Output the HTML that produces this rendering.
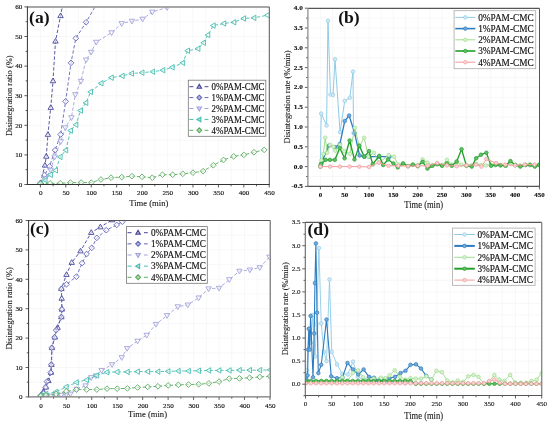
<!DOCTYPE html>
<html><head><meta charset="utf-8"><title>Disintegration</title>
<style>
html,body{margin:0;padding:0;background:#fff;}
body{width:550px;height:425px;overflow:hidden;}
svg{display:block;}
svg text{font-family:'Liberation Serif','Times New Roman',serif;}
</style></head><body>
<svg width="550" height="425" viewBox="0 0 550 425">
<rect width="550" height="425" fill="#fff"/>
<defs><clipPath id="ca"><rect x="27.9" y="7.4" width="240.9" height="176.6"/></clipPath><clipPath id="cb"><rect x="308.4" y="8.9" width="230.6" height="177"/></clipPath><clipPath id="cc"><rect x="29.1" y="221" width="240.6" height="175.4"/></clipPath><clipPath id="cd"><rect x="305.8" y="222.9" width="235.4" height="172.1"/></clipPath></defs>
<g stroke="#f3f3f3" stroke-width="0.6"><line x1="40.4" y1="6.9" x2="40.4" y2="184.5"/><line x1="53.11" y1="6.9" x2="53.11" y2="184.5"/><line x1="65.82" y1="6.9" x2="65.82" y2="184.5"/><line x1="78.54" y1="6.9" x2="78.54" y2="184.5"/><line x1="91.25" y1="6.9" x2="91.25" y2="184.5"/><line x1="103.96" y1="6.9" x2="103.96" y2="184.5"/><line x1="116.67" y1="6.9" x2="116.67" y2="184.5"/><line x1="129.39" y1="6.9" x2="129.39" y2="184.5"/><line x1="142.1" y1="6.9" x2="142.1" y2="184.5"/><line x1="154.81" y1="6.9" x2="154.81" y2="184.5"/><line x1="167.52" y1="6.9" x2="167.52" y2="184.5"/><line x1="180.24" y1="6.9" x2="180.24" y2="184.5"/><line x1="192.95" y1="6.9" x2="192.95" y2="184.5"/><line x1="205.66" y1="6.9" x2="205.66" y2="184.5"/><line x1="218.38" y1="6.9" x2="218.38" y2="184.5"/><line x1="231.09" y1="6.9" x2="231.09" y2="184.5"/><line x1="243.8" y1="6.9" x2="243.8" y2="184.5"/><line x1="256.51" y1="6.9" x2="256.51" y2="184.5"/><line x1="27.4" y1="169.7" x2="269.3" y2="169.7"/><line x1="27.4" y1="154.9" x2="269.3" y2="154.9"/><line x1="27.4" y1="140.1" x2="269.3" y2="140.1"/><line x1="27.4" y1="125.3" x2="269.3" y2="125.3"/><line x1="27.4" y1="110.5" x2="269.3" y2="110.5"/><line x1="27.4" y1="95.7" x2="269.3" y2="95.7"/><line x1="27.4" y1="80.9" x2="269.3" y2="80.9"/><line x1="27.4" y1="66.1" x2="269.3" y2="66.1"/><line x1="27.4" y1="51.3" x2="269.3" y2="51.3"/><line x1="27.4" y1="36.5" x2="269.3" y2="36.5"/><line x1="27.4" y1="21.7" x2="269.3" y2="21.7"/></g>
<g stroke="#333" stroke-width="0.8"><line x1="40.4" y1="184.5" x2="40.4" y2="187.5"/><line x1="65.82" y1="184.5" x2="65.82" y2="187.5"/><line x1="91.25" y1="184.5" x2="91.25" y2="187.5"/><line x1="116.67" y1="184.5" x2="116.67" y2="187.5"/><line x1="142.1" y1="184.5" x2="142.1" y2="187.5"/><line x1="167.52" y1="184.5" x2="167.52" y2="187.5"/><line x1="192.95" y1="184.5" x2="192.95" y2="187.5"/><line x1="218.38" y1="184.5" x2="218.38" y2="187.5"/><line x1="243.8" y1="184.5" x2="243.8" y2="187.5"/><line x1="269.22" y1="184.5" x2="269.22" y2="187.5"/><line x1="53.11" y1="184.5" x2="53.11" y2="186.3"/><line x1="78.54" y1="184.5" x2="78.54" y2="186.3"/><line x1="103.96" y1="184.5" x2="103.96" y2="186.3"/><line x1="129.39" y1="184.5" x2="129.39" y2="186.3"/><line x1="154.81" y1="184.5" x2="154.81" y2="186.3"/><line x1="180.24" y1="184.5" x2="180.24" y2="186.3"/><line x1="205.66" y1="184.5" x2="205.66" y2="186.3"/><line x1="231.09" y1="184.5" x2="231.09" y2="186.3"/><line x1="256.51" y1="184.5" x2="256.51" y2="186.3"/><line x1="24.4" y1="184.5" x2="27.4" y2="184.5"/><line x1="24.4" y1="154.9" x2="27.4" y2="154.9"/><line x1="24.4" y1="125.3" x2="27.4" y2="125.3"/><line x1="24.4" y1="95.7" x2="27.4" y2="95.7"/><line x1="24.4" y1="66.1" x2="27.4" y2="66.1"/><line x1="24.4" y1="36.5" x2="27.4" y2="36.5"/><line x1="24.4" y1="6.9" x2="27.4" y2="6.9"/><line x1="25.6" y1="169.7" x2="27.4" y2="169.7"/><line x1="25.6" y1="140.1" x2="27.4" y2="140.1"/><line x1="25.6" y1="110.5" x2="27.4" y2="110.5"/><line x1="25.6" y1="80.9" x2="27.4" y2="80.9"/><line x1="25.6" y1="51.3" x2="27.4" y2="51.3"/><line x1="25.6" y1="21.7" x2="27.4" y2="21.7"/></g>
<g clip-path="url(#ca)"><polyline points="40.4,183.02 44.98,165.26 46.3,156.38 47.93,134.48 50.72,107.54 53.01,80.9 55.5,41.24 60.54,15.78 65.82,-10.86" fill="none" stroke="#45479a" stroke-width="0.9" stroke-dasharray="3.4,2"/><polygon points="40.4,180.17 37.69,184.87 43.11,184.87" fill="rgba(255,255,255,0.55)" stroke="#45479a" stroke-width="0.9"/><polygon points="44.98,162.41 42.27,167.11 47.68,167.11" fill="rgba(255,255,255,0.55)" stroke="#45479a" stroke-width="0.9"/><polygon points="46.3,153.53 43.59,158.23 49.01,158.23" fill="rgba(255,255,255,0.55)" stroke="#45479a" stroke-width="0.9"/><polygon points="47.93,131.63 45.22,136.33 50.63,136.33" fill="rgba(255,255,255,0.55)" stroke="#45479a" stroke-width="0.9"/><polygon points="50.72,104.69 48.02,109.39 53.43,109.39" fill="rgba(255,255,255,0.55)" stroke="#45479a" stroke-width="0.9"/><polygon points="53.01,78.05 50.3,82.75 55.72,82.75" fill="rgba(255,255,255,0.55)" stroke="#45479a" stroke-width="0.9"/><polygon points="55.5,38.39 52.79,43.09 58.21,43.09" fill="rgba(255,255,255,0.55)" stroke="#45479a" stroke-width="0.9"/><polygon points="60.54,12.93 57.83,17.63 63.24,17.63" fill="rgba(255,255,255,0.55)" stroke="#45479a" stroke-width="0.9"/><polygon points="65.82,-13.71 63.12,-9.01 68.53,-9.01" fill="rgba(255,255,255,0.55)" stroke="#45479a" stroke-width="0.9"/></g>
<g clip-path="url(#ca)"><polyline points="40.4,183.61 44.47,175.03 49.55,166.44 55.15,150.16 60.64,134.48 65.62,101.32 71.01,62.84 75.84,38.28 86.06,22.29 96.33,4.53 106.5,-10.86" fill="none" stroke="#6467b8" stroke-width="0.9" stroke-dasharray="3.4,2"/><polygon points="40.4,180.76 43.25,183.61 40.4,186.46 37.55,183.61" fill="rgba(255,255,255,0.55)" stroke="#6467b8" stroke-width="0.9"/><polygon points="44.47,172.18 47.32,175.03 44.47,177.88 41.62,175.03" fill="rgba(255,255,255,0.55)" stroke="#6467b8" stroke-width="0.9"/><polygon points="49.55,163.59 52.4,166.44 49.55,169.29 46.7,166.44" fill="rgba(255,255,255,0.55)" stroke="#6467b8" stroke-width="0.9"/><polygon points="55.15,147.31 58,150.16 55.15,153.01 52.3,150.16" fill="rgba(255,255,255,0.55)" stroke="#6467b8" stroke-width="0.9"/><polygon points="60.64,131.63 63.49,134.48 60.64,137.33 57.79,134.48" fill="rgba(255,255,255,0.55)" stroke="#6467b8" stroke-width="0.9"/><polygon points="65.62,98.47 68.47,101.32 65.62,104.17 62.77,101.32" fill="rgba(255,255,255,0.55)" stroke="#6467b8" stroke-width="0.9"/><polygon points="71.01,59.99 73.86,62.84 71.01,65.69 68.16,62.84" fill="rgba(255,255,255,0.55)" stroke="#6467b8" stroke-width="0.9"/><polygon points="75.84,35.43 78.69,38.28 75.84,41.13 72.99,38.28" fill="rgba(255,255,255,0.55)" stroke="#6467b8" stroke-width="0.9"/><polygon points="86.06,19.44 88.91,22.29 86.06,25.14 83.21,22.29" fill="rgba(255,255,255,0.55)" stroke="#6467b8" stroke-width="0.9"/><polygon points="96.33,1.68 99.18,4.53 96.33,7.38 93.48,4.53" fill="rgba(255,255,255,0.55)" stroke="#6467b8" stroke-width="0.9"/><polygon points="106.5,-13.71 109.35,-10.86 106.5,-8.01 103.66,-10.86" fill="rgba(255,255,255,0.55)" stroke="#6467b8" stroke-width="0.9"/></g>
<g clip-path="url(#ca)"><polyline points="40.4,183.91 45.48,178.28 50.57,170 54.64,156.97 60.74,141.58 65.32,127.67 71.42,117.6 75.33,94.52 80.93,81.2 86.06,59.88 91.15,52.19 96.23,42.12 111.59,32.65 121.76,23.48 131.93,21.11 142.61,19.04 152.27,11.93 167.02,7.49 177.69,0.98" fill="none" stroke="#a3a3dc" stroke-width="0.9" stroke-dasharray="3.4,2"/><polygon points="40.4,186.76 37.69,182.06 43.11,182.06" fill="rgba(255,255,255,0.55)" stroke="#a3a3dc" stroke-width="0.9"/><polygon points="45.48,181.13 42.78,176.43 48.19,176.43" fill="rgba(255,255,255,0.55)" stroke="#a3a3dc" stroke-width="0.9"/><polygon points="50.57,172.85 47.86,168.14 53.28,168.14" fill="rgba(255,255,255,0.55)" stroke="#a3a3dc" stroke-width="0.9"/><polygon points="54.64,159.82 51.93,155.12 57.35,155.12" fill="rgba(255,255,255,0.55)" stroke="#a3a3dc" stroke-width="0.9"/><polygon points="60.74,144.43 58.03,139.73 63.45,139.73" fill="rgba(255,255,255,0.55)" stroke="#a3a3dc" stroke-width="0.9"/><polygon points="65.32,130.52 62.61,125.82 68.02,125.82" fill="rgba(255,255,255,0.55)" stroke="#a3a3dc" stroke-width="0.9"/><polygon points="71.42,120.45 68.71,115.75 74.13,115.75" fill="rgba(255,255,255,0.55)" stroke="#a3a3dc" stroke-width="0.9"/><polygon points="75.33,97.37 72.63,92.66 78.04,92.66" fill="rgba(255,255,255,0.55)" stroke="#a3a3dc" stroke-width="0.9"/><polygon points="80.93,84.05 78.22,79.34 83.63,79.34" fill="rgba(255,255,255,0.55)" stroke="#a3a3dc" stroke-width="0.9"/><polygon points="86.06,62.73 83.36,58.03 88.77,58.03" fill="rgba(255,255,255,0.55)" stroke="#a3a3dc" stroke-width="0.9"/><polygon points="91.15,55.04 88.44,50.34 93.86,50.34" fill="rgba(255,255,255,0.55)" stroke="#a3a3dc" stroke-width="0.9"/><polygon points="96.23,44.97 93.53,40.27 98.94,40.27" fill="rgba(255,255,255,0.55)" stroke="#a3a3dc" stroke-width="0.9"/><polygon points="111.59,35.5 108.88,30.8 114.3,30.8" fill="rgba(255,255,255,0.55)" stroke="#a3a3dc" stroke-width="0.9"/><polygon points="121.76,26.33 119.05,21.62 124.47,21.62" fill="rgba(255,255,255,0.55)" stroke="#a3a3dc" stroke-width="0.9"/><polygon points="131.93,23.96 129.22,19.26 134.64,19.26" fill="rgba(255,255,255,0.55)" stroke="#a3a3dc" stroke-width="0.9"/><polygon points="142.61,21.89 139.9,17.18 145.32,17.18" fill="rgba(255,255,255,0.55)" stroke="#a3a3dc" stroke-width="0.9"/><polygon points="152.27,14.78 149.56,10.08 154.98,10.08" fill="rgba(255,255,255,0.55)" stroke="#a3a3dc" stroke-width="0.9"/><polygon points="167.02,10.34 164.31,5.64 169.72,5.64" fill="rgba(255,255,255,0.55)" stroke="#a3a3dc" stroke-width="0.9"/><polygon points="177.69,3.83 174.99,-0.87 180.4,-0.87" fill="rgba(255,255,255,0.55)" stroke="#a3a3dc" stroke-width="0.9"/></g>
<g clip-path="url(#ca)"><polyline points="40.4,183.91 45.23,180.06 50.57,174.73 55.66,170.29 60.23,156.97 65.82,150.16 70.6,130.63 75.94,124.71 80.62,110.5 85.96,102.8 90.64,91.85 101.17,83.27 111.39,77.64 122.27,75.87 131.68,73.5 142.1,72.61 152.78,71.72 162.95,70.24 172.3,67.28 182.78,62.84 187.66,50.71 198.03,48.64 203.63,42.72 207.95,35.02 213.29,25.55 223.87,23.48 233.88,22.29 243.7,18.44 253.97,17.85 267.45,15.19" fill="none" stroke="#45bdb0" stroke-width="0.9" stroke-dasharray="3.4,2"/><polygon points="37.55,183.91 42.25,181.2 42.25,186.62" fill="rgba(255,255,255,0.55)" stroke="#45bdb0" stroke-width="0.9"/><polygon points="42.38,180.06 47.08,177.35 47.08,182.77" fill="rgba(255,255,255,0.55)" stroke="#45bdb0" stroke-width="0.9"/><polygon points="47.72,174.73 52.42,172.02 52.42,177.44" fill="rgba(255,255,255,0.55)" stroke="#45bdb0" stroke-width="0.9"/><polygon points="52.8,170.29 57.51,167.58 57.51,173" fill="rgba(255,255,255,0.55)" stroke="#45bdb0" stroke-width="0.9"/><polygon points="57.38,156.97 62.08,154.26 62.08,159.68" fill="rgba(255,255,255,0.55)" stroke="#45bdb0" stroke-width="0.9"/><polygon points="62.97,150.16 67.68,147.46 67.68,152.87" fill="rgba(255,255,255,0.55)" stroke="#45bdb0" stroke-width="0.9"/><polygon points="67.75,130.63 72.46,127.92 72.46,133.34" fill="rgba(255,255,255,0.55)" stroke="#45bdb0" stroke-width="0.9"/><polygon points="73.09,124.71 77.8,122 77.8,127.42" fill="rgba(255,255,255,0.55)" stroke="#45bdb0" stroke-width="0.9"/><polygon points="77.77,110.5 82.47,107.79 82.47,113.21" fill="rgba(255,255,255,0.55)" stroke="#45bdb0" stroke-width="0.9"/><polygon points="83.11,102.8 87.81,100.1 87.81,105.51" fill="rgba(255,255,255,0.55)" stroke="#45bdb0" stroke-width="0.9"/><polygon points="87.79,91.85 92.49,89.14 92.49,94.56" fill="rgba(255,255,255,0.55)" stroke="#45bdb0" stroke-width="0.9"/><polygon points="98.32,83.27 103.02,80.56 103.02,85.98" fill="rgba(255,255,255,0.55)" stroke="#45bdb0" stroke-width="0.9"/><polygon points="108.54,77.64 113.24,74.94 113.24,80.35" fill="rgba(255,255,255,0.55)" stroke="#45bdb0" stroke-width="0.9"/><polygon points="119.42,75.87 124.12,73.16 124.12,78.58" fill="rgba(255,255,255,0.55)" stroke="#45bdb0" stroke-width="0.9"/><polygon points="128.83,73.5 133.53,70.79 133.53,76.21" fill="rgba(255,255,255,0.55)" stroke="#45bdb0" stroke-width="0.9"/><polygon points="139.25,72.61 143.95,69.9 143.95,75.32" fill="rgba(255,255,255,0.55)" stroke="#45bdb0" stroke-width="0.9"/><polygon points="149.93,71.72 154.63,69.02 154.63,74.43" fill="rgba(255,255,255,0.55)" stroke="#45bdb0" stroke-width="0.9"/><polygon points="160.1,70.24 164.8,67.54 164.8,72.95" fill="rgba(255,255,255,0.55)" stroke="#45bdb0" stroke-width="0.9"/><polygon points="169.45,67.28 174.16,64.58 174.16,69.99" fill="rgba(255,255,255,0.55)" stroke="#45bdb0" stroke-width="0.9"/><polygon points="179.93,62.84 184.63,60.14 184.63,65.55" fill="rgba(255,255,255,0.55)" stroke="#45bdb0" stroke-width="0.9"/><polygon points="184.81,50.71 189.51,48 189.51,53.42" fill="rgba(255,255,255,0.55)" stroke="#45bdb0" stroke-width="0.9"/><polygon points="195.19,48.64 199.89,45.93 199.89,51.34" fill="rgba(255,255,255,0.55)" stroke="#45bdb0" stroke-width="0.9"/><polygon points="200.78,42.72 205.48,40.01 205.48,45.42" fill="rgba(255,255,255,0.55)" stroke="#45bdb0" stroke-width="0.9"/><polygon points="205.1,35.02 209.8,32.31 209.8,37.73" fill="rgba(255,255,255,0.55)" stroke="#45bdb0" stroke-width="0.9"/><polygon points="210.44,25.55 215.14,22.84 215.14,28.26" fill="rgba(255,255,255,0.55)" stroke="#45bdb0" stroke-width="0.9"/><polygon points="221.02,23.48 225.72,20.77 225.72,26.18" fill="rgba(255,255,255,0.55)" stroke="#45bdb0" stroke-width="0.9"/><polygon points="231.03,22.29 235.74,19.58 235.74,25" fill="rgba(255,255,255,0.55)" stroke="#45bdb0" stroke-width="0.9"/><polygon points="240.85,18.44 245.55,15.74 245.55,21.15" fill="rgba(255,255,255,0.55)" stroke="#45bdb0" stroke-width="0.9"/><polygon points="251.12,17.85 255.82,15.14 255.82,20.56" fill="rgba(255,255,255,0.55)" stroke="#45bdb0" stroke-width="0.9"/><polygon points="264.6,15.19 269.3,12.48 269.3,17.9" fill="rgba(255,255,255,0.55)" stroke="#45bdb0" stroke-width="0.9"/></g>
<g clip-path="url(#ca)"><polyline points="40.4,183.61 50.06,183.32 60.23,183.32 70.4,182.58 81.08,182.58 91.25,182.58 100.91,179.47 111.08,177.69 121.76,177.1 131.93,176.21 142.1,176.8 152.27,177.69 162.44,174.73 172.61,174.73 182.78,173.84 192.95,172.66 203.12,171.18 213.29,165.26 223.46,159.93 233.63,156.38 243.8,154.9 253.97,152.24 264.14,149.87" fill="none" stroke="#5aaa5f" stroke-width="0.9" stroke-dasharray="3.4,2"/><polygon points="40.4,180.76 43.25,183.61 40.4,186.46 37.55,183.61" fill="rgba(255,255,255,0.55)" stroke="#5aaa5f" stroke-width="0.9"/><polygon points="50.06,180.47 52.91,183.32 50.06,186.17 47.21,183.32" fill="rgba(255,255,255,0.55)" stroke="#5aaa5f" stroke-width="0.9"/><polygon points="60.23,180.47 63.08,183.32 60.23,186.17 57.38,183.32" fill="rgba(255,255,255,0.55)" stroke="#5aaa5f" stroke-width="0.9"/><polygon points="70.4,179.73 73.25,182.58 70.4,185.43 67.55,182.58" fill="rgba(255,255,255,0.55)" stroke="#5aaa5f" stroke-width="0.9"/><polygon points="81.08,179.73 83.93,182.58 81.08,185.43 78.23,182.58" fill="rgba(255,255,255,0.55)" stroke="#5aaa5f" stroke-width="0.9"/><polygon points="91.25,179.73 94.1,182.58 91.25,185.43 88.4,182.58" fill="rgba(255,255,255,0.55)" stroke="#5aaa5f" stroke-width="0.9"/><polygon points="100.91,176.62 103.76,179.47 100.91,182.32 98.06,179.47" fill="rgba(255,255,255,0.55)" stroke="#5aaa5f" stroke-width="0.9"/><polygon points="111.08,174.84 113.93,177.69 111.08,180.54 108.23,177.69" fill="rgba(255,255,255,0.55)" stroke="#5aaa5f" stroke-width="0.9"/><polygon points="121.76,174.25 124.61,177.1 121.76,179.95 118.91,177.1" fill="rgba(255,255,255,0.55)" stroke="#5aaa5f" stroke-width="0.9"/><polygon points="131.93,173.36 134.78,176.21 131.93,179.06 129.08,176.21" fill="rgba(255,255,255,0.55)" stroke="#5aaa5f" stroke-width="0.9"/><polygon points="142.1,173.95 144.95,176.8 142.1,179.65 139.25,176.8" fill="rgba(255,255,255,0.55)" stroke="#5aaa5f" stroke-width="0.9"/><polygon points="152.27,174.84 155.12,177.69 152.27,180.54 149.42,177.69" fill="rgba(255,255,255,0.55)" stroke="#5aaa5f" stroke-width="0.9"/><polygon points="162.44,171.88 165.29,174.73 162.44,177.58 159.59,174.73" fill="rgba(255,255,255,0.55)" stroke="#5aaa5f" stroke-width="0.9"/><polygon points="172.61,171.88 175.46,174.73 172.61,177.58 169.76,174.73" fill="rgba(255,255,255,0.55)" stroke="#5aaa5f" stroke-width="0.9"/><polygon points="182.78,170.99 185.63,173.84 182.78,176.69 179.93,173.84" fill="rgba(255,255,255,0.55)" stroke="#5aaa5f" stroke-width="0.9"/><polygon points="192.95,169.81 195.8,172.66 192.95,175.51 190.1,172.66" fill="rgba(255,255,255,0.55)" stroke="#5aaa5f" stroke-width="0.9"/><polygon points="203.12,168.33 205.97,171.18 203.12,174.03 200.27,171.18" fill="rgba(255,255,255,0.55)" stroke="#5aaa5f" stroke-width="0.9"/><polygon points="213.29,162.41 216.14,165.26 213.29,168.11 210.44,165.26" fill="rgba(255,255,255,0.55)" stroke="#5aaa5f" stroke-width="0.9"/><polygon points="223.46,157.08 226.31,159.93 223.46,162.78 220.61,159.93" fill="rgba(255,255,255,0.55)" stroke="#5aaa5f" stroke-width="0.9"/><polygon points="233.63,153.53 236.48,156.38 233.63,159.23 230.78,156.38" fill="rgba(255,255,255,0.55)" stroke="#5aaa5f" stroke-width="0.9"/><polygon points="243.8,152.05 246.65,154.9 243.8,157.75 240.95,154.9" fill="rgba(255,255,255,0.55)" stroke="#5aaa5f" stroke-width="0.9"/><polygon points="253.97,149.39 256.82,152.24 253.97,155.09 251.12,152.24" fill="rgba(255,255,255,0.55)" stroke="#5aaa5f" stroke-width="0.9"/><polygon points="264.14,147.02 266.99,149.87 264.14,152.72 261.29,149.87" fill="rgba(255,255,255,0.55)" stroke="#5aaa5f" stroke-width="0.9"/></g>
<line x1="27.4" y1="6.9" x2="269.3" y2="6.9" stroke="#8a8a8a" stroke-width="1.5"/><line x1="269.3" y1="6.9" x2="269.3" y2="184.5" stroke="#555" stroke-width="1.0"/><line x1="27.4" y1="6.4" x2="27.4" y2="185" stroke="#333" stroke-width="1.0"/><line x1="26.9" y1="184.5" x2="269.8" y2="184.5" stroke="#333" stroke-width="1.0"/>
<text x="40.7" y="195.4" font-size="7.1" text-anchor="middle" font-weight="normal" fill="#111" stroke="#111" stroke-width="0.15">0</text>
<text x="66.12" y="195.4" font-size="7.1" text-anchor="middle" font-weight="normal" fill="#111" stroke="#111" stroke-width="0.15">50</text>
<text x="91.55" y="195.4" font-size="7.1" text-anchor="middle" font-weight="normal" fill="#111" stroke="#111" stroke-width="0.15">100</text>
<text x="116.97" y="195.4" font-size="7.1" text-anchor="middle" font-weight="normal" fill="#111" stroke="#111" stroke-width="0.15">150</text>
<text x="142.4" y="195.4" font-size="7.1" text-anchor="middle" font-weight="normal" fill="#111" stroke="#111" stroke-width="0.15">200</text>
<text x="167.82" y="195.4" font-size="7.1" text-anchor="middle" font-weight="normal" fill="#111" stroke="#111" stroke-width="0.15">250</text>
<text x="193.25" y="195.4" font-size="7.1" text-anchor="middle" font-weight="normal" fill="#111" stroke="#111" stroke-width="0.15">300</text>
<text x="218.68" y="195.4" font-size="7.1" text-anchor="middle" font-weight="normal" fill="#111" stroke="#111" stroke-width="0.15">350</text>
<text x="244.1" y="195.4" font-size="7.1" text-anchor="middle" font-weight="normal" fill="#111" stroke="#111" stroke-width="0.15">400</text>
<text x="269.52" y="195.4" font-size="7.1" text-anchor="middle" font-weight="normal" fill="#111" stroke="#111" stroke-width="0.15">450</text>
<text x="22.3" y="186.8" font-size="7.1" text-anchor="end" font-weight="normal" fill="#111" stroke="#111" stroke-width="0.15">0</text>
<text x="22.3" y="157.2" font-size="7.1" text-anchor="end" font-weight="normal" fill="#111" stroke="#111" stroke-width="0.15">10</text>
<text x="22.3" y="127.6" font-size="7.1" text-anchor="end" font-weight="normal" fill="#111" stroke="#111" stroke-width="0.15">20</text>
<text x="22.3" y="98" font-size="7.1" text-anchor="end" font-weight="normal" fill="#111" stroke="#111" stroke-width="0.15">30</text>
<text x="22.3" y="68.4" font-size="7.1" text-anchor="end" font-weight="normal" fill="#111" stroke="#111" stroke-width="0.15">40</text>
<text x="22.3" y="38.8" font-size="7.1" text-anchor="end" font-weight="normal" fill="#111" stroke="#111" stroke-width="0.15">50</text>
<text x="22.3" y="9.2" font-size="7.1" text-anchor="end" font-weight="normal" fill="#111" stroke="#111" stroke-width="0.15">60</text>
<text x="148.8" y="205.7" font-size="8.6" text-anchor="middle" font-weight="normal" fill="#222" stroke="#222" stroke-width="0.12">Time (min)</text>
<text x="12" y="95.7" font-size="8.6" text-anchor="middle" font-weight="normal" fill="#222" transform="rotate(-90 12 95.7)" textLength="80.6" lengthAdjust="spacingAndGlyphs" stroke="#222" stroke-width="0.12">Disintegration ratio (%)</text>
<text x="29.1" y="22.9" font-size="17.6" text-anchor="start" font-weight="bold" fill="#111">(a)</text>
<rect x="188.3" y="80.2" width="77.5" height="56.1" fill="#fff" stroke="#777" stroke-width="0.8"/>
<line x1="189.3" y1="86.7" x2="193.4" y2="86.7" stroke="#45479a" stroke-width="1.0"/>
<line x1="204.6" y1="86.7" x2="208.4" y2="86.7" stroke="#45479a" stroke-width="1.0"/>
<polygon points="199.3,84.3 197.02,88.26 201.58,88.26" fill="#abacd1" stroke="#45479a" stroke-width="1.1"/>
<text x="211.6" y="89.9" font-size="9.6" text-anchor="start" font-weight="normal" fill="#111" textLength="52.9" lengthAdjust="spacingAndGlyphs" stroke="#111" stroke-width="0.15">0%PAM-CMC</text>
<line x1="189.3" y1="97.6" x2="193.4" y2="97.6" stroke="#6467b8" stroke-width="1.0"/>
<line x1="204.6" y1="97.6" x2="208.4" y2="97.6" stroke="#6467b8" stroke-width="1.0"/>
<polygon points="199.3,95.2 201.7,97.6 199.3,100 196.9,97.6" fill="#b9badf" stroke="#6467b8" stroke-width="1.1"/>
<text x="211.6" y="100.8" font-size="9.6" text-anchor="start" font-weight="normal" fill="#111" textLength="52.9" lengthAdjust="spacingAndGlyphs" stroke="#111" stroke-width="0.15">1%PAM-CMC</text>
<line x1="189.3" y1="108.5" x2="193.4" y2="108.5" stroke="#a3a3dc" stroke-width="1.0"/>
<line x1="204.6" y1="108.5" x2="208.4" y2="108.5" stroke="#a3a3dc" stroke-width="1.0"/>
<polygon points="199.3,110.9 197.02,106.94 201.58,106.94" fill="#d5d5ef" stroke="#a3a3dc" stroke-width="1.1"/>
<text x="211.6" y="111.7" font-size="9.6" text-anchor="start" font-weight="normal" fill="#111" textLength="52.9" lengthAdjust="spacingAndGlyphs" stroke="#111" stroke-width="0.15">2%PAM-CMC</text>
<line x1="189.3" y1="119.4" x2="193.4" y2="119.4" stroke="#45bdb0" stroke-width="1.0"/>
<line x1="204.6" y1="119.4" x2="208.4" y2="119.4" stroke="#45bdb0" stroke-width="1.0"/>
<polygon points="196.9,119.4 200.86,117.12 200.86,121.68" fill="#abe1db" stroke="#45bdb0" stroke-width="1.1"/>
<text x="211.6" y="122.6" font-size="9.6" text-anchor="start" font-weight="normal" fill="#111" textLength="52.9" lengthAdjust="spacingAndGlyphs" stroke="#111" stroke-width="0.15">3%PAM-CMC</text>
<line x1="189.3" y1="130.3" x2="193.4" y2="130.3" stroke="#5aaa5f" stroke-width="1.0"/>
<line x1="204.6" y1="130.3" x2="208.4" y2="130.3" stroke="#5aaa5f" stroke-width="1.0"/>
<polygon points="199.3,127.9 201.7,130.3 199.3,132.7 196.9,130.3" fill="#b4d8b7" stroke="#5aaa5f" stroke-width="1.1"/>
<text x="211.6" y="133.5" font-size="9.6" text-anchor="start" font-weight="normal" fill="#111" textLength="52.9" lengthAdjust="spacingAndGlyphs" stroke="#111" stroke-width="0.15">4%PAM-CMC</text>
<g stroke="#f3f3f3" stroke-width="0.6"><line x1="40.8" y1="220.5" x2="40.8" y2="396.9"/><line x1="53.53" y1="220.5" x2="53.53" y2="396.9"/><line x1="66.27" y1="220.5" x2="66.27" y2="396.9"/><line x1="79" y1="220.5" x2="79" y2="396.9"/><line x1="91.73" y1="220.5" x2="91.73" y2="396.9"/><line x1="104.46" y1="220.5" x2="104.46" y2="396.9"/><line x1="117.19" y1="220.5" x2="117.19" y2="396.9"/><line x1="129.93" y1="220.5" x2="129.93" y2="396.9"/><line x1="142.66" y1="220.5" x2="142.66" y2="396.9"/><line x1="155.39" y1="220.5" x2="155.39" y2="396.9"/><line x1="168.12" y1="220.5" x2="168.12" y2="396.9"/><line x1="180.86" y1="220.5" x2="180.86" y2="396.9"/><line x1="193.59" y1="220.5" x2="193.59" y2="396.9"/><line x1="206.32" y1="220.5" x2="206.32" y2="396.9"/><line x1="219.06" y1="220.5" x2="219.06" y2="396.9"/><line x1="231.79" y1="220.5" x2="231.79" y2="396.9"/><line x1="244.52" y1="220.5" x2="244.52" y2="396.9"/><line x1="257.25" y1="220.5" x2="257.25" y2="396.9"/><line x1="28.6" y1="382.2" x2="270.2" y2="382.2"/><line x1="28.6" y1="367.5" x2="270.2" y2="367.5"/><line x1="28.6" y1="352.8" x2="270.2" y2="352.8"/><line x1="28.6" y1="338.1" x2="270.2" y2="338.1"/><line x1="28.6" y1="323.4" x2="270.2" y2="323.4"/><line x1="28.6" y1="308.7" x2="270.2" y2="308.7"/><line x1="28.6" y1="294" x2="270.2" y2="294"/><line x1="28.6" y1="279.3" x2="270.2" y2="279.3"/><line x1="28.6" y1="264.6" x2="270.2" y2="264.6"/><line x1="28.6" y1="249.9" x2="270.2" y2="249.9"/><line x1="28.6" y1="235.2" x2="270.2" y2="235.2"/></g>
<g stroke="#333" stroke-width="0.8"><line x1="40.8" y1="396.9" x2="40.8" y2="399.9"/><line x1="66.27" y1="396.9" x2="66.27" y2="399.9"/><line x1="91.73" y1="396.9" x2="91.73" y2="399.9"/><line x1="117.19" y1="396.9" x2="117.19" y2="399.9"/><line x1="142.66" y1="396.9" x2="142.66" y2="399.9"/><line x1="168.12" y1="396.9" x2="168.12" y2="399.9"/><line x1="193.59" y1="396.9" x2="193.59" y2="399.9"/><line x1="219.06" y1="396.9" x2="219.06" y2="399.9"/><line x1="244.52" y1="396.9" x2="244.52" y2="399.9"/><line x1="269.99" y1="396.9" x2="269.99" y2="399.9"/><line x1="53.53" y1="396.9" x2="53.53" y2="398.7"/><line x1="79" y1="396.9" x2="79" y2="398.7"/><line x1="104.46" y1="396.9" x2="104.46" y2="398.7"/><line x1="129.93" y1="396.9" x2="129.93" y2="398.7"/><line x1="155.39" y1="396.9" x2="155.39" y2="398.7"/><line x1="180.86" y1="396.9" x2="180.86" y2="398.7"/><line x1="206.32" y1="396.9" x2="206.32" y2="398.7"/><line x1="231.79" y1="396.9" x2="231.79" y2="398.7"/><line x1="257.25" y1="396.9" x2="257.25" y2="398.7"/><line x1="25.6" y1="396.9" x2="28.6" y2="396.9"/><line x1="25.6" y1="367.5" x2="28.6" y2="367.5"/><line x1="25.6" y1="338.1" x2="28.6" y2="338.1"/><line x1="25.6" y1="308.7" x2="28.6" y2="308.7"/><line x1="25.6" y1="279.3" x2="28.6" y2="279.3"/><line x1="25.6" y1="249.9" x2="28.6" y2="249.9"/><line x1="25.6" y1="220.5" x2="28.6" y2="220.5"/><line x1="26.8" y1="382.2" x2="28.6" y2="382.2"/><line x1="26.8" y1="352.8" x2="28.6" y2="352.8"/><line x1="26.8" y1="323.4" x2="28.6" y2="323.4"/><line x1="26.8" y1="294" x2="28.6" y2="294"/><line x1="26.8" y1="264.6" x2="28.6" y2="264.6"/><line x1="26.8" y1="235.2" x2="28.6" y2="235.2"/></g>
<g clip-path="url(#cc)"><polyline points="40.8,395.43 43.35,391.61 45.89,387.2 48.44,380.73 50.99,372.5 51.5,364.56 52,347.8 54.81,337.22 57.61,327.52 61.38,316.93 61.89,309.29 61.68,298.41 61.43,288.71 66.47,274.6 71.71,262.54 80.53,251.08 91.22,232.55 100.39,226.97 112.1,219.91 122.29,214.62" fill="none" stroke="#45479a" stroke-width="0.9" stroke-dasharray="3.4,2"/><polygon points="40.8,392.58 38.09,397.28 43.51,397.28" fill="rgba(255,255,255,0.55)" stroke="#45479a" stroke-width="0.9"/><polygon points="43.35,388.76 40.64,393.46 46.05,393.46" fill="rgba(255,255,255,0.55)" stroke="#45479a" stroke-width="0.9"/><polygon points="45.89,384.35 43.19,389.05 48.6,389.05" fill="rgba(255,255,255,0.55)" stroke="#45479a" stroke-width="0.9"/><polygon points="48.44,377.88 45.73,382.58 51.15,382.58" fill="rgba(255,255,255,0.55)" stroke="#45479a" stroke-width="0.9"/><polygon points="50.99,369.65 48.28,374.35 53.69,374.35" fill="rgba(255,255,255,0.55)" stroke="#45479a" stroke-width="0.9"/><polygon points="51.5,361.71 48.79,366.41 54.2,366.41" fill="rgba(255,255,255,0.55)" stroke="#45479a" stroke-width="0.9"/><polygon points="52,344.95 49.3,349.65 54.71,349.65" fill="rgba(255,255,255,0.55)" stroke="#45479a" stroke-width="0.9"/><polygon points="54.81,334.37 52.1,339.07 57.51,339.07" fill="rgba(255,255,255,0.55)" stroke="#45479a" stroke-width="0.9"/><polygon points="57.61,324.67 54.9,329.37 60.31,329.37" fill="rgba(255,255,255,0.55)" stroke="#45479a" stroke-width="0.9"/><polygon points="61.38,314.08 58.67,318.78 64.08,318.78" fill="rgba(255,255,255,0.55)" stroke="#45479a" stroke-width="0.9"/><polygon points="61.89,306.44 59.18,311.14 64.59,311.14" fill="rgba(255,255,255,0.55)" stroke="#45479a" stroke-width="0.9"/><polygon points="61.68,295.56 58.97,300.26 64.39,300.26" fill="rgba(255,255,255,0.55)" stroke="#45479a" stroke-width="0.9"/><polygon points="61.43,285.86 58.72,290.56 64.13,290.56" fill="rgba(255,255,255,0.55)" stroke="#45479a" stroke-width="0.9"/><polygon points="66.47,271.75 63.76,276.45 69.18,276.45" fill="rgba(255,255,255,0.55)" stroke="#45479a" stroke-width="0.9"/><polygon points="71.71,259.69 69.01,264.39 74.42,264.39" fill="rgba(255,255,255,0.55)" stroke="#45479a" stroke-width="0.9"/><polygon points="80.53,248.23 77.82,252.93 83.23,252.93" fill="rgba(255,255,255,0.55)" stroke="#45479a" stroke-width="0.9"/><polygon points="91.22,229.7 88.51,234.41 93.93,234.41" fill="rgba(255,255,255,0.55)" stroke="#45479a" stroke-width="0.9"/><polygon points="100.39,224.12 97.68,228.82 103.1,228.82" fill="rgba(255,255,255,0.55)" stroke="#45479a" stroke-width="0.9"/><polygon points="112.1,217.06 109.39,221.76 114.81,221.76" fill="rgba(255,255,255,0.55)" stroke="#45479a" stroke-width="0.9"/><polygon points="122.29,211.77 119.58,216.47 125,216.47" fill="rgba(255,255,255,0.55)" stroke="#45479a" stroke-width="0.9"/></g>
<g clip-path="url(#cc)"><polyline points="40.8,395.72 43.35,393.37 45.49,387.2 46.91,381.61 50.73,372.5 51.24,364.56 51.75,347.8 54.55,337.22 56.18,330.16 61.38,316.93 61.89,309.29 61.32,289 66.52,284.3 76.4,276.65 82.1,263.13 86.64,254.02 91.73,247.84 96.82,237.85 106.25,230.2 116.69,224.91 122.29,221.68 129.93,217.56" fill="none" stroke="#6467b8" stroke-width="0.9" stroke-dasharray="3.4,2"/><polygon points="40.8,392.87 43.65,395.72 40.8,398.57 37.95,395.72" fill="rgba(255,255,255,0.55)" stroke="#6467b8" stroke-width="0.9"/><polygon points="43.35,390.52 46.2,393.37 43.35,396.22 40.5,393.37" fill="rgba(255,255,255,0.55)" stroke="#6467b8" stroke-width="0.9"/><polygon points="45.49,384.35 48.34,387.2 45.49,390.05 42.64,387.2" fill="rgba(255,255,255,0.55)" stroke="#6467b8" stroke-width="0.9"/><polygon points="46.91,378.76 49.76,381.61 46.91,384.46 44.06,381.61" fill="rgba(255,255,255,0.55)" stroke="#6467b8" stroke-width="0.9"/><polygon points="50.73,369.65 53.58,372.5 50.73,375.35 47.88,372.5" fill="rgba(255,255,255,0.55)" stroke="#6467b8" stroke-width="0.9"/><polygon points="51.24,361.71 54.09,364.56 51.24,367.41 48.39,364.56" fill="rgba(255,255,255,0.55)" stroke="#6467b8" stroke-width="0.9"/><polygon points="51.75,344.95 54.6,347.8 51.75,350.65 48.9,347.8" fill="rgba(255,255,255,0.55)" stroke="#6467b8" stroke-width="0.9"/><polygon points="54.55,334.37 57.4,337.22 54.55,340.07 51.7,337.22" fill="rgba(255,255,255,0.55)" stroke="#6467b8" stroke-width="0.9"/><polygon points="56.18,327.31 59.03,330.16 56.18,333.01 53.33,330.16" fill="rgba(255,255,255,0.55)" stroke="#6467b8" stroke-width="0.9"/><polygon points="61.38,314.08 64.23,316.93 61.38,319.78 58.53,316.93" fill="rgba(255,255,255,0.55)" stroke="#6467b8" stroke-width="0.9"/><polygon points="61.89,306.44 64.74,309.29 61.89,312.14 59.04,309.29" fill="rgba(255,255,255,0.55)" stroke="#6467b8" stroke-width="0.9"/><polygon points="61.32,286.15 64.17,289 61.32,291.85 58.47,289" fill="rgba(255,255,255,0.55)" stroke="#6467b8" stroke-width="0.9"/><polygon points="66.52,281.45 69.37,284.3 66.52,287.15 63.67,284.3" fill="rgba(255,255,255,0.55)" stroke="#6467b8" stroke-width="0.9"/><polygon points="76.4,273.8 79.25,276.65 76.4,279.5 73.55,276.65" fill="rgba(255,255,255,0.55)" stroke="#6467b8" stroke-width="0.9"/><polygon points="82.1,260.28 84.95,263.13 82.1,265.98 79.25,263.13" fill="rgba(255,255,255,0.55)" stroke="#6467b8" stroke-width="0.9"/><polygon points="86.64,251.17 89.49,254.02 86.64,256.87 83.79,254.02" fill="rgba(255,255,255,0.55)" stroke="#6467b8" stroke-width="0.9"/><polygon points="91.73,244.99 94.58,247.84 91.73,250.69 88.88,247.84" fill="rgba(255,255,255,0.55)" stroke="#6467b8" stroke-width="0.9"/><polygon points="96.82,235 99.67,237.85 96.82,240.7 93.97,237.85" fill="rgba(255,255,255,0.55)" stroke="#6467b8" stroke-width="0.9"/><polygon points="106.25,227.35 109.1,230.2 106.25,233.05 103.4,230.2" fill="rgba(255,255,255,0.55)" stroke="#6467b8" stroke-width="0.9"/><polygon points="116.69,222.06 119.54,224.91 116.69,227.76 113.84,224.91" fill="rgba(255,255,255,0.55)" stroke="#6467b8" stroke-width="0.9"/><polygon points="122.29,218.83 125.14,221.68 122.29,224.53 119.44,221.68" fill="rgba(255,255,255,0.55)" stroke="#6467b8" stroke-width="0.9"/><polygon points="129.93,214.71 132.78,217.56 129.93,220.41 127.08,217.56" fill="rgba(255,255,255,0.55)" stroke="#6467b8" stroke-width="0.9"/></g>
<g clip-path="url(#cc)"><polyline points="40.8,396.61 45.89,396.31 50.99,396.02 56.08,395.43 61.17,395.14 66.27,394.55 70.34,393.96 76.71,389.26 85.62,385.73 91.22,377.5 95.8,375.73 101.66,370.44 112.1,364.56 121.78,357.5 127.13,348.39 137.57,341.04 146.73,335.16 155.9,324.28 167.11,315.46 177.8,306.64 187.78,304.88 198.68,297.82 208.61,288.71 219.06,288.12 229.24,279.59 239.43,271.07 249.92,269.89 259.8,267.54 269.48,256.96" fill="none" stroke="#a3a3dc" stroke-width="0.9" stroke-dasharray="3.4,2"/><polygon points="40.8,399.46 38.09,394.75 43.51,394.75" fill="rgba(255,255,255,0.55)" stroke="#a3a3dc" stroke-width="0.9"/><polygon points="45.89,399.16 43.19,394.46 48.6,394.46" fill="rgba(255,255,255,0.55)" stroke="#a3a3dc" stroke-width="0.9"/><polygon points="50.99,398.87 48.28,394.17 53.69,394.17" fill="rgba(255,255,255,0.55)" stroke="#a3a3dc" stroke-width="0.9"/><polygon points="56.08,398.28 53.37,393.58 58.79,393.58" fill="rgba(255,255,255,0.55)" stroke="#a3a3dc" stroke-width="0.9"/><polygon points="61.17,397.99 58.46,393.28 63.88,393.28" fill="rgba(255,255,255,0.55)" stroke="#a3a3dc" stroke-width="0.9"/><polygon points="66.27,397.4 63.56,392.7 68.97,392.7" fill="rgba(255,255,255,0.55)" stroke="#a3a3dc" stroke-width="0.9"/><polygon points="70.34,396.81 67.63,392.11 73.05,392.11" fill="rgba(255,255,255,0.55)" stroke="#a3a3dc" stroke-width="0.9"/><polygon points="76.71,392.11 74,387.4 79.41,387.4" fill="rgba(255,255,255,0.55)" stroke="#a3a3dc" stroke-width="0.9"/><polygon points="85.62,388.58 82.91,383.88 88.33,383.88" fill="rgba(255,255,255,0.55)" stroke="#a3a3dc" stroke-width="0.9"/><polygon points="91.22,380.35 88.51,375.64 93.93,375.64" fill="rgba(255,255,255,0.55)" stroke="#a3a3dc" stroke-width="0.9"/><polygon points="95.8,378.58 93.1,373.88 98.51,373.88" fill="rgba(255,255,255,0.55)" stroke="#a3a3dc" stroke-width="0.9"/><polygon points="101.66,373.29 98.95,368.59 104.37,368.59" fill="rgba(255,255,255,0.55)" stroke="#a3a3dc" stroke-width="0.9"/><polygon points="112.1,367.41 109.39,362.71 114.81,362.71" fill="rgba(255,255,255,0.55)" stroke="#a3a3dc" stroke-width="0.9"/><polygon points="121.78,360.35 119.07,355.65 124.49,355.65" fill="rgba(255,255,255,0.55)" stroke="#a3a3dc" stroke-width="0.9"/><polygon points="127.13,351.24 124.42,346.54 129.83,346.54" fill="rgba(255,255,255,0.55)" stroke="#a3a3dc" stroke-width="0.9"/><polygon points="137.57,343.89 134.86,339.19 140.27,339.19" fill="rgba(255,255,255,0.55)" stroke="#a3a3dc" stroke-width="0.9"/><polygon points="146.73,338.01 144.03,333.31 149.44,333.31" fill="rgba(255,255,255,0.55)" stroke="#a3a3dc" stroke-width="0.9"/><polygon points="155.9,327.13 153.19,322.43 158.61,322.43" fill="rgba(255,255,255,0.55)" stroke="#a3a3dc" stroke-width="0.9"/><polygon points="167.11,318.31 164.4,313.61 169.81,313.61" fill="rgba(255,255,255,0.55)" stroke="#a3a3dc" stroke-width="0.9"/><polygon points="177.8,309.49 175.09,304.79 180.51,304.79" fill="rgba(255,255,255,0.55)" stroke="#a3a3dc" stroke-width="0.9"/><polygon points="187.78,307.73 185.08,303.03 190.49,303.03" fill="rgba(255,255,255,0.55)" stroke="#a3a3dc" stroke-width="0.9"/><polygon points="198.68,300.67 195.98,295.97 201.39,295.97" fill="rgba(255,255,255,0.55)" stroke="#a3a3dc" stroke-width="0.9"/><polygon points="208.61,291.56 205.91,286.86 211.32,286.86" fill="rgba(255,255,255,0.55)" stroke="#a3a3dc" stroke-width="0.9"/><polygon points="219.06,290.97 216.35,286.27 221.76,286.27" fill="rgba(255,255,255,0.55)" stroke="#a3a3dc" stroke-width="0.9"/><polygon points="229.24,282.44 226.53,277.74 231.95,277.74" fill="rgba(255,255,255,0.55)" stroke="#a3a3dc" stroke-width="0.9"/><polygon points="239.43,273.92 236.72,269.22 242.13,269.22" fill="rgba(255,255,255,0.55)" stroke="#a3a3dc" stroke-width="0.9"/><polygon points="249.92,272.74 247.21,268.04 252.63,268.04" fill="rgba(255,255,255,0.55)" stroke="#a3a3dc" stroke-width="0.9"/><polygon points="259.8,270.39 257.09,265.69 262.51,265.69" fill="rgba(255,255,255,0.55)" stroke="#a3a3dc" stroke-width="0.9"/><polygon points="269.48,259.81 266.77,255.1 272.18,255.1" fill="rgba(255,255,255,0.55)" stroke="#a3a3dc" stroke-width="0.9"/></g>
<g clip-path="url(#cc)"><polyline points="40.8,395.43 45.89,393.96 56.08,391.9 66.27,386.9 76.45,382.49 86.64,379.85 96.82,375.44 107.01,372.2 117.19,371.91 127.38,371.91 137.57,371.62 147.75,371.62 157.94,371.62 168.12,371.32 178.31,371.03 188.5,371.03 198.68,370.73 208.87,370.44 219.06,370.44 229.24,370.44 239.43,370.15 249.61,370.15 259.8,370.15 269.99,369.85" fill="none" stroke="#45bdb0" stroke-width="0.9" stroke-dasharray="3.4,2"/><polygon points="37.95,395.43 42.65,392.72 42.65,398.14" fill="rgba(255,255,255,0.55)" stroke="#45bdb0" stroke-width="0.9"/><polygon points="43.04,393.96 47.75,391.25 47.75,396.67" fill="rgba(255,255,255,0.55)" stroke="#45bdb0" stroke-width="0.9"/><polygon points="53.23,391.9 57.93,389.19 57.93,394.61" fill="rgba(255,255,255,0.55)" stroke="#45bdb0" stroke-width="0.9"/><polygon points="63.41,386.9 68.12,384.2 68.12,389.61" fill="rgba(255,255,255,0.55)" stroke="#45bdb0" stroke-width="0.9"/><polygon points="73.6,382.49 78.3,379.79 78.3,385.2" fill="rgba(255,255,255,0.55)" stroke="#45bdb0" stroke-width="0.9"/><polygon points="83.79,379.85 88.49,377.14 88.49,382.56" fill="rgba(255,255,255,0.55)" stroke="#45bdb0" stroke-width="0.9"/><polygon points="93.97,375.44 98.68,372.73 98.68,378.15" fill="rgba(255,255,255,0.55)" stroke="#45bdb0" stroke-width="0.9"/><polygon points="104.16,372.2 108.86,369.5 108.86,374.91" fill="rgba(255,255,255,0.55)" stroke="#45bdb0" stroke-width="0.9"/><polygon points="114.34,371.91 119.05,369.2 119.05,374.62" fill="rgba(255,255,255,0.55)" stroke="#45bdb0" stroke-width="0.9"/><polygon points="124.53,371.91 129.23,369.2 129.23,374.62" fill="rgba(255,255,255,0.55)" stroke="#45bdb0" stroke-width="0.9"/><polygon points="134.72,371.62 139.42,368.91 139.42,374.32" fill="rgba(255,255,255,0.55)" stroke="#45bdb0" stroke-width="0.9"/><polygon points="144.9,371.62 149.61,368.91 149.61,374.32" fill="rgba(255,255,255,0.55)" stroke="#45bdb0" stroke-width="0.9"/><polygon points="155.09,371.62 159.79,368.91 159.79,374.32" fill="rgba(255,255,255,0.55)" stroke="#45bdb0" stroke-width="0.9"/><polygon points="165.28,371.32 169.98,368.61 169.98,374.03" fill="rgba(255,255,255,0.55)" stroke="#45bdb0" stroke-width="0.9"/><polygon points="175.46,371.03 180.16,368.32 180.16,373.74" fill="rgba(255,255,255,0.55)" stroke="#45bdb0" stroke-width="0.9"/><polygon points="185.65,371.03 190.35,368.32 190.35,373.74" fill="rgba(255,255,255,0.55)" stroke="#45bdb0" stroke-width="0.9"/><polygon points="195.83,370.73 200.54,368.03 200.54,373.44" fill="rgba(255,255,255,0.55)" stroke="#45bdb0" stroke-width="0.9"/><polygon points="206.02,370.44 210.72,367.73 210.72,373.15" fill="rgba(255,255,255,0.55)" stroke="#45bdb0" stroke-width="0.9"/><polygon points="216.21,370.44 220.91,367.73 220.91,373.15" fill="rgba(255,255,255,0.55)" stroke="#45bdb0" stroke-width="0.9"/><polygon points="226.39,370.44 231.09,367.73 231.09,373.15" fill="rgba(255,255,255,0.55)" stroke="#45bdb0" stroke-width="0.9"/><polygon points="236.58,370.15 241.28,367.44 241.28,372.85" fill="rgba(255,255,255,0.55)" stroke="#45bdb0" stroke-width="0.9"/><polygon points="246.76,370.15 251.47,367.44 251.47,372.85" fill="rgba(255,255,255,0.55)" stroke="#45bdb0" stroke-width="0.9"/><polygon points="256.95,370.15 261.65,367.44 261.65,372.85" fill="rgba(255,255,255,0.55)" stroke="#45bdb0" stroke-width="0.9"/><polygon points="267.13,369.85 271.84,367.14 271.84,372.56" fill="rgba(255,255,255,0.55)" stroke="#45bdb0" stroke-width="0.9"/></g>
<g clip-path="url(#cc)"><polyline points="40.8,396.02 45.89,395.43 56.08,393.96 66.27,391.31 76.45,389.55 86.64,389.55 96.82,389.55 107.01,388.67 117.19,388.67 127.38,388.37 137.57,387.49 147.75,386.9 157.94,386.32 168.12,385.43 178.31,384.85 188.5,384.55 198.68,384.26 208.87,383.38 219.06,381.61 229.24,378.67 239.43,378.38 249.61,377.79 259.8,376.91 269.99,376.32" fill="none" stroke="#5aaa5f" stroke-width="0.9" stroke-dasharray="3.4,2"/><polygon points="40.8,393.17 43.65,396.02 40.8,398.87 37.95,396.02" fill="rgba(255,255,255,0.55)" stroke="#5aaa5f" stroke-width="0.9"/><polygon points="45.89,392.58 48.74,395.43 45.89,398.28 43.04,395.43" fill="rgba(255,255,255,0.55)" stroke="#5aaa5f" stroke-width="0.9"/><polygon points="56.08,391.11 58.93,393.96 56.08,396.81 53.23,393.96" fill="rgba(255,255,255,0.55)" stroke="#5aaa5f" stroke-width="0.9"/><polygon points="66.27,388.46 69.11,391.31 66.27,394.16 63.41,391.31" fill="rgba(255,255,255,0.55)" stroke="#5aaa5f" stroke-width="0.9"/><polygon points="76.45,386.7 79.3,389.55 76.45,392.4 73.6,389.55" fill="rgba(255,255,255,0.55)" stroke="#5aaa5f" stroke-width="0.9"/><polygon points="86.64,386.7 89.49,389.55 86.64,392.4 83.79,389.55" fill="rgba(255,255,255,0.55)" stroke="#5aaa5f" stroke-width="0.9"/><polygon points="96.82,386.7 99.67,389.55 96.82,392.4 93.97,389.55" fill="rgba(255,255,255,0.55)" stroke="#5aaa5f" stroke-width="0.9"/><polygon points="107.01,385.82 109.86,388.67 107.01,391.52 104.16,388.67" fill="rgba(255,255,255,0.55)" stroke="#5aaa5f" stroke-width="0.9"/><polygon points="117.19,385.82 120.04,388.67 117.19,391.52 114.34,388.67" fill="rgba(255,255,255,0.55)" stroke="#5aaa5f" stroke-width="0.9"/><polygon points="127.38,385.52 130.23,388.37 127.38,391.22 124.53,388.37" fill="rgba(255,255,255,0.55)" stroke="#5aaa5f" stroke-width="0.9"/><polygon points="137.57,384.64 140.42,387.49 137.57,390.34 134.72,387.49" fill="rgba(255,255,255,0.55)" stroke="#5aaa5f" stroke-width="0.9"/><polygon points="147.75,384.05 150.6,386.9 147.75,389.75 144.9,386.9" fill="rgba(255,255,255,0.55)" stroke="#5aaa5f" stroke-width="0.9"/><polygon points="157.94,383.47 160.79,386.32 157.94,389.17 155.09,386.32" fill="rgba(255,255,255,0.55)" stroke="#5aaa5f" stroke-width="0.9"/><polygon points="168.12,382.58 170.97,385.43 168.12,388.28 165.28,385.43" fill="rgba(255,255,255,0.55)" stroke="#5aaa5f" stroke-width="0.9"/><polygon points="178.31,382 181.16,384.85 178.31,387.7 175.46,384.85" fill="rgba(255,255,255,0.55)" stroke="#5aaa5f" stroke-width="0.9"/><polygon points="188.5,381.7 191.35,384.55 188.5,387.4 185.65,384.55" fill="rgba(255,255,255,0.55)" stroke="#5aaa5f" stroke-width="0.9"/><polygon points="198.68,381.41 201.53,384.26 198.68,387.11 195.83,384.26" fill="rgba(255,255,255,0.55)" stroke="#5aaa5f" stroke-width="0.9"/><polygon points="208.87,380.53 211.72,383.38 208.87,386.23 206.02,383.38" fill="rgba(255,255,255,0.55)" stroke="#5aaa5f" stroke-width="0.9"/><polygon points="219.06,378.76 221.91,381.61 219.06,384.46 216.21,381.61" fill="rgba(255,255,255,0.55)" stroke="#5aaa5f" stroke-width="0.9"/><polygon points="229.24,375.82 232.09,378.67 229.24,381.52 226.39,378.67" fill="rgba(255,255,255,0.55)" stroke="#5aaa5f" stroke-width="0.9"/><polygon points="239.43,375.53 242.28,378.38 239.43,381.23 236.58,378.38" fill="rgba(255,255,255,0.55)" stroke="#5aaa5f" stroke-width="0.9"/><polygon points="249.61,374.94 252.46,377.79 249.61,380.64 246.76,377.79" fill="rgba(255,255,255,0.55)" stroke="#5aaa5f" stroke-width="0.9"/><polygon points="259.8,374.06 262.65,376.91 259.8,379.76 256.95,376.91" fill="rgba(255,255,255,0.55)" stroke="#5aaa5f" stroke-width="0.9"/><polygon points="269.99,373.47 272.84,376.32 269.99,379.17 267.13,376.32" fill="rgba(255,255,255,0.55)" stroke="#5aaa5f" stroke-width="0.9"/></g>
<line x1="28.6" y1="220.5" x2="270.2" y2="220.5" stroke="#555" stroke-width="1.0"/><line x1="270.2" y1="220.5" x2="270.2" y2="396.9" stroke="#555" stroke-width="1.0"/><line x1="28.6" y1="220" x2="28.6" y2="397.4" stroke="#333" stroke-width="1.0"/><line x1="28.1" y1="396.9" x2="270.7" y2="396.9" stroke="#777" stroke-width="1.3"/>
<text x="41.1" y="407.7" font-size="7.1" text-anchor="middle" font-weight="normal" fill="#111" stroke="#111" stroke-width="0.15">0</text>
<text x="66.56" y="407.7" font-size="7.1" text-anchor="middle" font-weight="normal" fill="#111" stroke="#111" stroke-width="0.15">50</text>
<text x="92.03" y="407.7" font-size="7.1" text-anchor="middle" font-weight="normal" fill="#111" stroke="#111" stroke-width="0.15">100</text>
<text x="117.49" y="407.7" font-size="7.1" text-anchor="middle" font-weight="normal" fill="#111" stroke="#111" stroke-width="0.15">150</text>
<text x="142.96" y="407.7" font-size="7.1" text-anchor="middle" font-weight="normal" fill="#111" stroke="#111" stroke-width="0.15">200</text>
<text x="168.43" y="407.7" font-size="7.1" text-anchor="middle" font-weight="normal" fill="#111" stroke="#111" stroke-width="0.15">250</text>
<text x="193.89" y="407.7" font-size="7.1" text-anchor="middle" font-weight="normal" fill="#111" stroke="#111" stroke-width="0.15">300</text>
<text x="219.36" y="407.7" font-size="7.1" text-anchor="middle" font-weight="normal" fill="#111" stroke="#111" stroke-width="0.15">350</text>
<text x="244.82" y="407.7" font-size="7.1" text-anchor="middle" font-weight="normal" fill="#111" stroke="#111" stroke-width="0.15">400</text>
<text x="270.29" y="407.7" font-size="7.1" text-anchor="middle" font-weight="normal" fill="#111" stroke="#111" stroke-width="0.15">450</text>
<text x="22.5" y="399.2" font-size="7.1" text-anchor="end" font-weight="normal" fill="#111" stroke="#111" stroke-width="0.15">0</text>
<text x="22.5" y="369.8" font-size="7.1" text-anchor="end" font-weight="normal" fill="#111" stroke="#111" stroke-width="0.15">10</text>
<text x="22.5" y="340.4" font-size="7.1" text-anchor="end" font-weight="normal" fill="#111" stroke="#111" stroke-width="0.15">20</text>
<text x="22.5" y="311" font-size="7.1" text-anchor="end" font-weight="normal" fill="#111" stroke="#111" stroke-width="0.15">30</text>
<text x="22.5" y="281.6" font-size="7.1" text-anchor="end" font-weight="normal" fill="#111" stroke="#111" stroke-width="0.15">40</text>
<text x="22.5" y="252.2" font-size="7.1" text-anchor="end" font-weight="normal" fill="#111" stroke="#111" stroke-width="0.15">50</text>
<text x="22.5" y="222.8" font-size="7.1" text-anchor="end" font-weight="normal" fill="#111" stroke="#111" stroke-width="0.15">60</text>
<text x="147.5" y="417.3" font-size="8.6" text-anchor="middle" font-weight="normal" fill="#222" stroke="#222" stroke-width="0.12">Time (min)</text>
<text x="12" y="308.4" font-size="8.8" text-anchor="middle" font-weight="normal" fill="#222" transform="rotate(-90 12 308.4)" textLength="82.3" lengthAdjust="spacingAndGlyphs" stroke="#222" stroke-width="0.12">Disintegration ratio (%)</text>
<text x="29.9" y="233.6" font-size="17.6" text-anchor="start" font-weight="bold" fill="#111">(c)</text>
<rect x="126.5" y="226.6" width="80.8" height="56.7" fill="#fff" stroke="#777" stroke-width="0.8"/>
<line x1="127.5" y1="232.7" x2="131.6" y2="232.7" stroke="#45479a" stroke-width="1.0"/>
<line x1="144" y1="232.7" x2="147.8" y2="232.7" stroke="#45479a" stroke-width="1.0"/>
<polygon points="138.1,230.3 135.82,234.26 140.38,234.26" fill="#abacd1" stroke="#45479a" stroke-width="1.1"/>
<text x="151" y="235.9" font-size="9.4" text-anchor="start" font-weight="normal" fill="#111" textLength="54.9" lengthAdjust="spacingAndGlyphs" stroke="#111" stroke-width="0.15">0%PAM-CMC</text>
<line x1="127.5" y1="243.85" x2="131.6" y2="243.85" stroke="#6467b8" stroke-width="1.0"/>
<line x1="144" y1="243.85" x2="147.8" y2="243.85" stroke="#6467b8" stroke-width="1.0"/>
<polygon points="138.1,241.45 140.5,243.85 138.1,246.25 135.7,243.85" fill="#b9badf" stroke="#6467b8" stroke-width="1.1"/>
<text x="151" y="247.05" font-size="9.4" text-anchor="start" font-weight="normal" fill="#111" textLength="54.9" lengthAdjust="spacingAndGlyphs" stroke="#111" stroke-width="0.15">1%PAM-CMC</text>
<line x1="127.5" y1="255" x2="131.6" y2="255" stroke="#a3a3dc" stroke-width="1.0"/>
<line x1="144" y1="255" x2="147.8" y2="255" stroke="#a3a3dc" stroke-width="1.0"/>
<polygon points="138.1,257.4 135.82,253.44 140.38,253.44" fill="#d5d5ef" stroke="#a3a3dc" stroke-width="1.1"/>
<text x="151" y="258.2" font-size="9.4" text-anchor="start" font-weight="normal" fill="#111" textLength="54.9" lengthAdjust="spacingAndGlyphs" stroke="#111" stroke-width="0.15">2%PAM-CMC</text>
<line x1="127.5" y1="266.15" x2="131.6" y2="266.15" stroke="#45bdb0" stroke-width="1.0"/>
<line x1="144" y1="266.15" x2="147.8" y2="266.15" stroke="#45bdb0" stroke-width="1.0"/>
<polygon points="135.7,266.15 139.66,263.87 139.66,268.43" fill="#abe1db" stroke="#45bdb0" stroke-width="1.1"/>
<text x="151" y="269.35" font-size="9.4" text-anchor="start" font-weight="normal" fill="#111" textLength="54.9" lengthAdjust="spacingAndGlyphs" stroke="#111" stroke-width="0.15">3%PAM-CMC</text>
<line x1="127.5" y1="277.3" x2="131.6" y2="277.3" stroke="#5aaa5f" stroke-width="1.0"/>
<line x1="144" y1="277.3" x2="147.8" y2="277.3" stroke="#5aaa5f" stroke-width="1.0"/>
<polygon points="138.1,274.9 140.5,277.3 138.1,279.7 135.7,277.3" fill="#b4d8b7" stroke="#5aaa5f" stroke-width="1.1"/>
<text x="151" y="280.5" font-size="9.4" text-anchor="start" font-weight="normal" fill="#111" textLength="54.9" lengthAdjust="spacingAndGlyphs" stroke="#111" stroke-width="0.15">4%PAM-CMC</text>
<g stroke="#f3f3f3" stroke-width="0.6"><line x1="320.4" y1="8.4" x2="320.4" y2="186.4"/><line x1="332.57" y1="8.4" x2="332.57" y2="186.4"/><line x1="344.73" y1="8.4" x2="344.73" y2="186.4"/><line x1="356.9" y1="8.4" x2="356.9" y2="186.4"/><line x1="369.07" y1="8.4" x2="369.07" y2="186.4"/><line x1="381.24" y1="8.4" x2="381.24" y2="186.4"/><line x1="393.4" y1="8.4" x2="393.4" y2="186.4"/><line x1="405.57" y1="8.4" x2="405.57" y2="186.4"/><line x1="417.74" y1="8.4" x2="417.74" y2="186.4"/><line x1="429.91" y1="8.4" x2="429.91" y2="186.4"/><line x1="442.07" y1="8.4" x2="442.07" y2="186.4"/><line x1="454.24" y1="8.4" x2="454.24" y2="186.4"/><line x1="466.41" y1="8.4" x2="466.41" y2="186.4"/><line x1="478.58" y1="8.4" x2="478.58" y2="186.4"/><line x1="490.75" y1="8.4" x2="490.75" y2="186.4"/><line x1="502.91" y1="8.4" x2="502.91" y2="186.4"/><line x1="515.08" y1="8.4" x2="515.08" y2="186.4"/><line x1="527.25" y1="8.4" x2="527.25" y2="186.4"/><line x1="307.9" y1="176.5" x2="539.5" y2="176.5"/><line x1="307.9" y1="166.6" x2="539.5" y2="166.6"/><line x1="307.9" y1="156.7" x2="539.5" y2="156.7"/><line x1="307.9" y1="146.8" x2="539.5" y2="146.8"/><line x1="307.9" y1="136.9" x2="539.5" y2="136.9"/><line x1="307.9" y1="127" x2="539.5" y2="127"/><line x1="307.9" y1="117.1" x2="539.5" y2="117.1"/><line x1="307.9" y1="107.2" x2="539.5" y2="107.2"/><line x1="307.9" y1="97.3" x2="539.5" y2="97.3"/><line x1="307.9" y1="87.4" x2="539.5" y2="87.4"/><line x1="307.9" y1="77.5" x2="539.5" y2="77.5"/><line x1="307.9" y1="67.6" x2="539.5" y2="67.6"/><line x1="307.9" y1="57.7" x2="539.5" y2="57.7"/><line x1="307.9" y1="47.8" x2="539.5" y2="47.8"/><line x1="307.9" y1="37.9" x2="539.5" y2="37.9"/><line x1="307.9" y1="28" x2="539.5" y2="28"/><line x1="307.9" y1="18.1" x2="539.5" y2="18.1"/></g>
<g stroke="#333" stroke-width="0.8"><line x1="320.4" y1="186.4" x2="320.4" y2="189.4"/><line x1="344.73" y1="186.4" x2="344.73" y2="189.4"/><line x1="369.07" y1="186.4" x2="369.07" y2="189.4"/><line x1="393.4" y1="186.4" x2="393.4" y2="189.4"/><line x1="417.74" y1="186.4" x2="417.74" y2="189.4"/><line x1="442.07" y1="186.4" x2="442.07" y2="189.4"/><line x1="466.41" y1="186.4" x2="466.41" y2="189.4"/><line x1="490.75" y1="186.4" x2="490.75" y2="189.4"/><line x1="515.08" y1="186.4" x2="515.08" y2="189.4"/><line x1="539.41" y1="186.4" x2="539.41" y2="189.4"/><line x1="332.57" y1="186.4" x2="332.57" y2="188.2"/><line x1="356.9" y1="186.4" x2="356.9" y2="188.2"/><line x1="381.24" y1="186.4" x2="381.24" y2="188.2"/><line x1="405.57" y1="186.4" x2="405.57" y2="188.2"/><line x1="429.91" y1="186.4" x2="429.91" y2="188.2"/><line x1="454.24" y1="186.4" x2="454.24" y2="188.2"/><line x1="478.58" y1="186.4" x2="478.58" y2="188.2"/><line x1="502.91" y1="186.4" x2="502.91" y2="188.2"/><line x1="527.25" y1="186.4" x2="527.25" y2="188.2"/><line x1="304.9" y1="186.4" x2="307.9" y2="186.4"/><line x1="304.9" y1="166.6" x2="307.9" y2="166.6"/><line x1="304.9" y1="146.8" x2="307.9" y2="146.8"/><line x1="304.9" y1="127" x2="307.9" y2="127"/><line x1="304.9" y1="107.2" x2="307.9" y2="107.2"/><line x1="304.9" y1="87.4" x2="307.9" y2="87.4"/><line x1="304.9" y1="67.6" x2="307.9" y2="67.6"/><line x1="304.9" y1="47.8" x2="307.9" y2="47.8"/><line x1="304.9" y1="28" x2="307.9" y2="28"/><line x1="304.9" y1="8.2" x2="307.9" y2="8.2"/><line x1="306.1" y1="176.5" x2="307.9" y2="176.5"/><line x1="306.1" y1="156.7" x2="307.9" y2="156.7"/><line x1="306.1" y1="136.9" x2="307.9" y2="136.9"/><line x1="306.1" y1="117.1" x2="307.9" y2="117.1"/><line x1="306.1" y1="97.3" x2="307.9" y2="97.3"/><line x1="306.1" y1="77.5" x2="307.9" y2="77.5"/><line x1="306.1" y1="57.7" x2="307.9" y2="57.7"/><line x1="306.1" y1="37.9" x2="307.9" y2="37.9"/><line x1="306.1" y1="18.1" x2="307.9" y2="18.1"/></g>
<g clip-path="url(#cb)"><polyline points="320.4,166.6 321.18,113.54 326.58,125.42 327.99,20.87 330.47,94.53 333.05,94.92 335,59.28 340.06,132.15 344.73,100.86 349.85,97.7 353.01,71.56 353.5,132.94" fill="none" stroke="#8fcbe6" stroke-width="1.0" stroke-linejoin="round"/><circle cx="320.4" cy="166.6" r="1.8" fill="#d2eaf5" stroke="#8fcbe6" stroke-width="0.7"/><circle cx="321.18" cy="113.54" r="1.8" fill="#d2eaf5" stroke="#8fcbe6" stroke-width="0.7"/><circle cx="326.58" cy="125.42" r="1.8" fill="#d2eaf5" stroke="#8fcbe6" stroke-width="0.7"/><circle cx="327.99" cy="20.87" r="1.8" fill="#d2eaf5" stroke="#8fcbe6" stroke-width="0.7"/><circle cx="330.47" cy="94.53" r="1.8" fill="#d2eaf5" stroke="#8fcbe6" stroke-width="0.7"/><circle cx="333.05" cy="94.92" r="1.8" fill="#d2eaf5" stroke="#8fcbe6" stroke-width="0.7"/><circle cx="335" cy="59.28" r="1.8" fill="#d2eaf5" stroke="#8fcbe6" stroke-width="0.7"/><circle cx="340.06" cy="132.15" r="1.8" fill="#d2eaf5" stroke="#8fcbe6" stroke-width="0.7"/><circle cx="344.73" cy="100.86" r="1.8" fill="#d2eaf5" stroke="#8fcbe6" stroke-width="0.7"/><circle cx="349.85" cy="97.7" r="1.8" fill="#d2eaf5" stroke="#8fcbe6" stroke-width="0.7"/><circle cx="353.01" cy="71.56" r="1.8" fill="#d2eaf5" stroke="#8fcbe6" stroke-width="0.7"/><circle cx="353.5" cy="132.94" r="1.8" fill="#d2eaf5" stroke="#8fcbe6" stroke-width="0.7"/></g>
<g clip-path="url(#cb)"><polyline points="320.4,165.81 321.18,163.43 329.01,145.61 335.2,147.2 339.87,144.03 344.73,121.06 349.12,115.52 354.71,133.34 359.58,155.51 364.45,156.7 369.07,156.7 378.8,156.7 389.51,156.7" fill="none" stroke="#2b7cc0" stroke-width="1.3" stroke-linejoin="round"/><circle cx="320.4" cy="165.81" r="1.8" fill="#75a9d6" stroke="#2b7cc0" stroke-width="0.7"/><circle cx="321.18" cy="163.43" r="1.8" fill="#75a9d6" stroke="#2b7cc0" stroke-width="0.7"/><circle cx="329.01" cy="145.61" r="1.8" fill="#75a9d6" stroke="#2b7cc0" stroke-width="0.7"/><circle cx="335.2" cy="147.2" r="1.8" fill="#75a9d6" stroke="#2b7cc0" stroke-width="0.7"/><circle cx="339.87" cy="144.03" r="1.8" fill="#75a9d6" stroke="#2b7cc0" stroke-width="0.7"/><circle cx="344.73" cy="121.06" r="1.8" fill="#75a9d6" stroke="#2b7cc0" stroke-width="0.7"/><circle cx="349.12" cy="115.52" r="1.8" fill="#75a9d6" stroke="#2b7cc0" stroke-width="0.7"/><circle cx="354.71" cy="133.34" r="1.8" fill="#75a9d6" stroke="#2b7cc0" stroke-width="0.7"/><circle cx="359.58" cy="155.51" r="1.8" fill="#75a9d6" stroke="#2b7cc0" stroke-width="0.7"/><circle cx="364.45" cy="156.7" r="1.8" fill="#75a9d6" stroke="#2b7cc0" stroke-width="0.7"/><circle cx="369.07" cy="156.7" r="1.8" fill="#75a9d6" stroke="#2b7cc0" stroke-width="0.7"/><circle cx="378.8" cy="156.7" r="1.8" fill="#75a9d6" stroke="#2b7cc0" stroke-width="0.7"/><circle cx="389.51" cy="156.7" r="1.8" fill="#75a9d6" stroke="#2b7cc0" stroke-width="0.7"/></g>
<g clip-path="url(#cb)"><polyline points="320.4,164.62 321.37,160.26 323.32,153.93 325.22,137.69 327.21,152.74 330.13,144.82 333.39,146.8 335.2,150.76 340.11,144.82 344.39,151.16 349.89,153.93 354.81,127.79 359.34,146.8 364.11,137.69 368.39,156.7 373.94,152.74 379.29,162.64 388.54,155.12 393.89,156.7 398.27,164.62 403.14,163.43 408.01,165.81 412.87,164.62 417.74,165.02 422.61,159.47 427.47,162.64 432.34,165.41 437.21,163.83 442.07,165.41 446.94,159.87 451.81,164.62 456.68,162.64 461.54,164.62 466.41,165.02 471.28,165.41 476.14,163.83 481.01,165.02 485.88,165.41 490.75,164.62 495.61,164.22 500.48,165.02 505.35,165.41 510.21,163.43 515.08,165.02 519.95,165.41 524.81,164.62 529.68,164.22 534.55,165.02 539.41,164.22" fill="none" stroke="#9fdc8c" stroke-width="1.0" stroke-linejoin="round"/><circle cx="320.4" cy="164.62" r="1.8" fill="#d8f1d1" stroke="#9fdc8c" stroke-width="0.7"/><circle cx="321.37" cy="160.26" r="1.8" fill="#d8f1d1" stroke="#9fdc8c" stroke-width="0.7"/><circle cx="323.32" cy="153.93" r="1.8" fill="#d8f1d1" stroke="#9fdc8c" stroke-width="0.7"/><circle cx="325.22" cy="137.69" r="1.8" fill="#d8f1d1" stroke="#9fdc8c" stroke-width="0.7"/><circle cx="327.21" cy="152.74" r="1.8" fill="#d8f1d1" stroke="#9fdc8c" stroke-width="0.7"/><circle cx="330.13" cy="144.82" r="1.8" fill="#d8f1d1" stroke="#9fdc8c" stroke-width="0.7"/><circle cx="333.39" cy="146.8" r="1.8" fill="#d8f1d1" stroke="#9fdc8c" stroke-width="0.7"/><circle cx="335.2" cy="150.76" r="1.8" fill="#d8f1d1" stroke="#9fdc8c" stroke-width="0.7"/><circle cx="340.11" cy="144.82" r="1.8" fill="#d8f1d1" stroke="#9fdc8c" stroke-width="0.7"/><circle cx="344.39" cy="151.16" r="1.8" fill="#d8f1d1" stroke="#9fdc8c" stroke-width="0.7"/><circle cx="349.89" cy="153.93" r="1.8" fill="#d8f1d1" stroke="#9fdc8c" stroke-width="0.7"/><circle cx="354.81" cy="127.79" r="1.8" fill="#d8f1d1" stroke="#9fdc8c" stroke-width="0.7"/><circle cx="359.34" cy="146.8" r="1.8" fill="#d8f1d1" stroke="#9fdc8c" stroke-width="0.7"/><circle cx="364.11" cy="137.69" r="1.8" fill="#d8f1d1" stroke="#9fdc8c" stroke-width="0.7"/><circle cx="368.39" cy="156.7" r="1.8" fill="#d8f1d1" stroke="#9fdc8c" stroke-width="0.7"/><circle cx="373.94" cy="152.74" r="1.8" fill="#d8f1d1" stroke="#9fdc8c" stroke-width="0.7"/><circle cx="379.29" cy="162.64" r="1.8" fill="#d8f1d1" stroke="#9fdc8c" stroke-width="0.7"/><circle cx="388.54" cy="155.12" r="1.8" fill="#d8f1d1" stroke="#9fdc8c" stroke-width="0.7"/><circle cx="393.89" cy="156.7" r="1.8" fill="#d8f1d1" stroke="#9fdc8c" stroke-width="0.7"/><circle cx="398.27" cy="164.62" r="1.8" fill="#d8f1d1" stroke="#9fdc8c" stroke-width="0.7"/><circle cx="403.14" cy="163.43" r="1.8" fill="#d8f1d1" stroke="#9fdc8c" stroke-width="0.7"/><circle cx="408.01" cy="165.81" r="1.8" fill="#d8f1d1" stroke="#9fdc8c" stroke-width="0.7"/><circle cx="412.87" cy="164.62" r="1.8" fill="#d8f1d1" stroke="#9fdc8c" stroke-width="0.7"/><circle cx="417.74" cy="165.02" r="1.8" fill="#d8f1d1" stroke="#9fdc8c" stroke-width="0.7"/><circle cx="422.61" cy="159.47" r="1.8" fill="#d8f1d1" stroke="#9fdc8c" stroke-width="0.7"/><circle cx="427.47" cy="162.64" r="1.8" fill="#d8f1d1" stroke="#9fdc8c" stroke-width="0.7"/><circle cx="432.34" cy="165.41" r="1.8" fill="#d8f1d1" stroke="#9fdc8c" stroke-width="0.7"/><circle cx="437.21" cy="163.83" r="1.8" fill="#d8f1d1" stroke="#9fdc8c" stroke-width="0.7"/><circle cx="442.07" cy="165.41" r="1.8" fill="#d8f1d1" stroke="#9fdc8c" stroke-width="0.7"/><circle cx="446.94" cy="159.87" r="1.8" fill="#d8f1d1" stroke="#9fdc8c" stroke-width="0.7"/><circle cx="451.81" cy="164.62" r="1.8" fill="#d8f1d1" stroke="#9fdc8c" stroke-width="0.7"/><circle cx="456.68" cy="162.64" r="1.8" fill="#d8f1d1" stroke="#9fdc8c" stroke-width="0.7"/><circle cx="461.54" cy="164.62" r="1.8" fill="#d8f1d1" stroke="#9fdc8c" stroke-width="0.7"/><circle cx="466.41" cy="165.02" r="1.8" fill="#d8f1d1" stroke="#9fdc8c" stroke-width="0.7"/><circle cx="471.28" cy="165.41" r="1.8" fill="#d8f1d1" stroke="#9fdc8c" stroke-width="0.7"/><circle cx="476.14" cy="163.83" r="1.8" fill="#d8f1d1" stroke="#9fdc8c" stroke-width="0.7"/><circle cx="481.01" cy="165.02" r="1.8" fill="#d8f1d1" stroke="#9fdc8c" stroke-width="0.7"/><circle cx="485.88" cy="165.41" r="1.8" fill="#d8f1d1" stroke="#9fdc8c" stroke-width="0.7"/><circle cx="490.75" cy="164.62" r="1.8" fill="#d8f1d1" stroke="#9fdc8c" stroke-width="0.7"/><circle cx="495.61" cy="164.22" r="1.8" fill="#d8f1d1" stroke="#9fdc8c" stroke-width="0.7"/><circle cx="500.48" cy="165.02" r="1.8" fill="#d8f1d1" stroke="#9fdc8c" stroke-width="0.7"/><circle cx="505.35" cy="165.41" r="1.8" fill="#d8f1d1" stroke="#9fdc8c" stroke-width="0.7"/><circle cx="510.21" cy="163.43" r="1.8" fill="#d8f1d1" stroke="#9fdc8c" stroke-width="0.7"/><circle cx="515.08" cy="165.02" r="1.8" fill="#d8f1d1" stroke="#9fdc8c" stroke-width="0.7"/><circle cx="519.95" cy="165.41" r="1.8" fill="#d8f1d1" stroke="#9fdc8c" stroke-width="0.7"/><circle cx="524.81" cy="164.62" r="1.8" fill="#d8f1d1" stroke="#9fdc8c" stroke-width="0.7"/><circle cx="529.68" cy="164.22" r="1.8" fill="#d8f1d1" stroke="#9fdc8c" stroke-width="0.7"/><circle cx="534.55" cy="165.02" r="1.8" fill="#d8f1d1" stroke="#9fdc8c" stroke-width="0.7"/><circle cx="539.41" cy="164.22" r="1.8" fill="#d8f1d1" stroke="#9fdc8c" stroke-width="0.7"/></g>
<g clip-path="url(#cb)"><polyline points="320.4,166.6 321.18,164.22 325.61,159.87 329.94,159.87 334.85,159.87 339.77,147.99 344.64,158.28 349.6,140.46 354.47,159.47 359.34,145.61 364.2,156.7 369.07,151.16 372.72,164.22 379.29,155.91 383.18,165.02 388.05,159.47 393.4,163.43 397.79,167.39 403.14,163.43 408.01,166.2 412.87,164.62 417.74,166.2 422.61,161.85 427.47,168.58 432.34,165.81 437.21,164.22 442.07,165.81 446.94,163.43 451.81,165.81 456.68,161.45 461.54,149.18 466.41,165.81 471.76,166.6 476.14,158.28 481.01,154.72 486.36,152.74 491.09,165.81 495.61,165.02 500.48,165.41 505.64,165.81 510.46,161.06 515.32,165.02 520.34,166.6 525.59,165.02 530.17,165.02 534.84,166.6 539.22,165.02" fill="none" stroke="#22a02a" stroke-width="1.35" stroke-linejoin="round"/><circle cx="320.4" cy="166.6" r="1.8" fill="#64bc69" stroke="#22a02a" stroke-width="0.7"/><circle cx="321.18" cy="164.22" r="1.8" fill="#64bc69" stroke="#22a02a" stroke-width="0.7"/><circle cx="325.61" cy="159.87" r="1.8" fill="#64bc69" stroke="#22a02a" stroke-width="0.7"/><circle cx="329.94" cy="159.87" r="1.8" fill="#64bc69" stroke="#22a02a" stroke-width="0.7"/><circle cx="334.85" cy="159.87" r="1.8" fill="#64bc69" stroke="#22a02a" stroke-width="0.7"/><circle cx="339.77" cy="147.99" r="1.8" fill="#64bc69" stroke="#22a02a" stroke-width="0.7"/><circle cx="344.64" cy="158.28" r="1.8" fill="#64bc69" stroke="#22a02a" stroke-width="0.7"/><circle cx="349.6" cy="140.46" r="1.8" fill="#64bc69" stroke="#22a02a" stroke-width="0.7"/><circle cx="354.47" cy="159.47" r="1.8" fill="#64bc69" stroke="#22a02a" stroke-width="0.7"/><circle cx="359.34" cy="145.61" r="1.8" fill="#64bc69" stroke="#22a02a" stroke-width="0.7"/><circle cx="364.2" cy="156.7" r="1.8" fill="#64bc69" stroke="#22a02a" stroke-width="0.7"/><circle cx="369.07" cy="151.16" r="1.8" fill="#64bc69" stroke="#22a02a" stroke-width="0.7"/><circle cx="372.72" cy="164.22" r="1.8" fill="#64bc69" stroke="#22a02a" stroke-width="0.7"/><circle cx="379.29" cy="155.91" r="1.8" fill="#64bc69" stroke="#22a02a" stroke-width="0.7"/><circle cx="383.18" cy="165.02" r="1.8" fill="#64bc69" stroke="#22a02a" stroke-width="0.7"/><circle cx="388.05" cy="159.47" r="1.8" fill="#64bc69" stroke="#22a02a" stroke-width="0.7"/><circle cx="393.4" cy="163.43" r="1.8" fill="#64bc69" stroke="#22a02a" stroke-width="0.7"/><circle cx="397.79" cy="167.39" r="1.8" fill="#64bc69" stroke="#22a02a" stroke-width="0.7"/><circle cx="403.14" cy="163.43" r="1.8" fill="#64bc69" stroke="#22a02a" stroke-width="0.7"/><circle cx="408.01" cy="166.2" r="1.8" fill="#64bc69" stroke="#22a02a" stroke-width="0.7"/><circle cx="412.87" cy="164.62" r="1.8" fill="#64bc69" stroke="#22a02a" stroke-width="0.7"/><circle cx="417.74" cy="166.2" r="1.8" fill="#64bc69" stroke="#22a02a" stroke-width="0.7"/><circle cx="422.61" cy="161.85" r="1.8" fill="#64bc69" stroke="#22a02a" stroke-width="0.7"/><circle cx="427.47" cy="168.58" r="1.8" fill="#64bc69" stroke="#22a02a" stroke-width="0.7"/><circle cx="432.34" cy="165.81" r="1.8" fill="#64bc69" stroke="#22a02a" stroke-width="0.7"/><circle cx="437.21" cy="164.22" r="1.8" fill="#64bc69" stroke="#22a02a" stroke-width="0.7"/><circle cx="442.07" cy="165.81" r="1.8" fill="#64bc69" stroke="#22a02a" stroke-width="0.7"/><circle cx="446.94" cy="163.43" r="1.8" fill="#64bc69" stroke="#22a02a" stroke-width="0.7"/><circle cx="451.81" cy="165.81" r="1.8" fill="#64bc69" stroke="#22a02a" stroke-width="0.7"/><circle cx="456.68" cy="161.45" r="1.8" fill="#64bc69" stroke="#22a02a" stroke-width="0.7"/><circle cx="461.54" cy="149.18" r="1.8" fill="#64bc69" stroke="#22a02a" stroke-width="0.7"/><circle cx="466.41" cy="165.81" r="1.8" fill="#64bc69" stroke="#22a02a" stroke-width="0.7"/><circle cx="471.76" cy="166.6" r="1.8" fill="#64bc69" stroke="#22a02a" stroke-width="0.7"/><circle cx="476.14" cy="158.28" r="1.8" fill="#64bc69" stroke="#22a02a" stroke-width="0.7"/><circle cx="481.01" cy="154.72" r="1.8" fill="#64bc69" stroke="#22a02a" stroke-width="0.7"/><circle cx="486.36" cy="152.74" r="1.8" fill="#64bc69" stroke="#22a02a" stroke-width="0.7"/><circle cx="491.09" cy="165.81" r="1.8" fill="#64bc69" stroke="#22a02a" stroke-width="0.7"/><circle cx="495.61" cy="165.02" r="1.8" fill="#64bc69" stroke="#22a02a" stroke-width="0.7"/><circle cx="500.48" cy="165.41" r="1.8" fill="#64bc69" stroke="#22a02a" stroke-width="0.7"/><circle cx="505.64" cy="165.81" r="1.8" fill="#64bc69" stroke="#22a02a" stroke-width="0.7"/><circle cx="510.46" cy="161.06" r="1.8" fill="#64bc69" stroke="#22a02a" stroke-width="0.7"/><circle cx="515.32" cy="165.02" r="1.8" fill="#64bc69" stroke="#22a02a" stroke-width="0.7"/><circle cx="520.34" cy="166.6" r="1.8" fill="#64bc69" stroke="#22a02a" stroke-width="0.7"/><circle cx="525.59" cy="165.02" r="1.8" fill="#64bc69" stroke="#22a02a" stroke-width="0.7"/><circle cx="530.17" cy="165.02" r="1.8" fill="#64bc69" stroke="#22a02a" stroke-width="0.7"/><circle cx="534.84" cy="166.6" r="1.8" fill="#64bc69" stroke="#22a02a" stroke-width="0.7"/><circle cx="539.22" cy="165.02" r="1.8" fill="#64bc69" stroke="#22a02a" stroke-width="0.7"/></g>
<g clip-path="url(#cb)"><polyline points="320.4,166.6 330.13,166.6 339.87,166.6 349.6,166.6 359.34,166.6 369.07,167 378.8,162.64 388.54,165.81 398.27,165.81 408.01,166.2 417.74,165.81 427.47,165.81 437.21,163.04 446.94,165.41 456.68,166.2 466.41,165.41 476.14,164.62 481.5,166.6 486.36,159.08 496.1,163.04 505.35,164.62 515.08,165.41 524.81,164.62 534.55,164.62" fill="none" stroke="#f29a9a" stroke-width="1.0" stroke-linejoin="round"/><circle cx="320.4" cy="166.6" r="1.8" fill="#f9d6d6" stroke="#f29a9a" stroke-width="0.7"/><circle cx="330.13" cy="166.6" r="1.8" fill="#f9d6d6" stroke="#f29a9a" stroke-width="0.7"/><circle cx="339.87" cy="166.6" r="1.8" fill="#f9d6d6" stroke="#f29a9a" stroke-width="0.7"/><circle cx="349.6" cy="166.6" r="1.8" fill="#f9d6d6" stroke="#f29a9a" stroke-width="0.7"/><circle cx="359.34" cy="166.6" r="1.8" fill="#f9d6d6" stroke="#f29a9a" stroke-width="0.7"/><circle cx="369.07" cy="167" r="1.8" fill="#f9d6d6" stroke="#f29a9a" stroke-width="0.7"/><circle cx="378.8" cy="162.64" r="1.8" fill="#f9d6d6" stroke="#f29a9a" stroke-width="0.7"/><circle cx="388.54" cy="165.81" r="1.8" fill="#f9d6d6" stroke="#f29a9a" stroke-width="0.7"/><circle cx="398.27" cy="165.81" r="1.8" fill="#f9d6d6" stroke="#f29a9a" stroke-width="0.7"/><circle cx="408.01" cy="166.2" r="1.8" fill="#f9d6d6" stroke="#f29a9a" stroke-width="0.7"/><circle cx="417.74" cy="165.81" r="1.8" fill="#f9d6d6" stroke="#f29a9a" stroke-width="0.7"/><circle cx="427.47" cy="165.81" r="1.8" fill="#f9d6d6" stroke="#f29a9a" stroke-width="0.7"/><circle cx="437.21" cy="163.04" r="1.8" fill="#f9d6d6" stroke="#f29a9a" stroke-width="0.7"/><circle cx="446.94" cy="165.41" r="1.8" fill="#f9d6d6" stroke="#f29a9a" stroke-width="0.7"/><circle cx="456.68" cy="166.2" r="1.8" fill="#f9d6d6" stroke="#f29a9a" stroke-width="0.7"/><circle cx="466.41" cy="165.41" r="1.8" fill="#f9d6d6" stroke="#f29a9a" stroke-width="0.7"/><circle cx="476.14" cy="164.62" r="1.8" fill="#f9d6d6" stroke="#f29a9a" stroke-width="0.7"/><circle cx="481.5" cy="166.6" r="1.8" fill="#f9d6d6" stroke="#f29a9a" stroke-width="0.7"/><circle cx="486.36" cy="159.08" r="1.8" fill="#f9d6d6" stroke="#f29a9a" stroke-width="0.7"/><circle cx="496.1" cy="163.04" r="1.8" fill="#f9d6d6" stroke="#f29a9a" stroke-width="0.7"/><circle cx="505.35" cy="164.62" r="1.8" fill="#f9d6d6" stroke="#f29a9a" stroke-width="0.7"/><circle cx="515.08" cy="165.41" r="1.8" fill="#f9d6d6" stroke="#f29a9a" stroke-width="0.7"/><circle cx="524.81" cy="164.62" r="1.8" fill="#f9d6d6" stroke="#f29a9a" stroke-width="0.7"/><circle cx="534.55" cy="164.62" r="1.8" fill="#f9d6d6" stroke="#f29a9a" stroke-width="0.7"/></g>
<line x1="307.9" y1="8.4" x2="539.5" y2="8.4" stroke="#555" stroke-width="1.1"/><line x1="539.5" y1="8.4" x2="539.5" y2="186.4" stroke="#555" stroke-width="1.0"/><line x1="307.9" y1="7.9" x2="307.9" y2="186.9" stroke="#888" stroke-width="1.2"/><line x1="307.4" y1="186.4" x2="540" y2="186.4" stroke="#555" stroke-width="1.2"/>
<text x="320.4" y="196.6" font-size="6.4" text-anchor="middle" font-weight="bold" fill="#111" textLength="3.46" lengthAdjust="spacingAndGlyphs" stroke="#111" stroke-width="0.12">0</text>
<text x="344.73" y="196.6" font-size="6.4" text-anchor="middle" font-weight="bold" fill="#111" textLength="6.91" lengthAdjust="spacingAndGlyphs" stroke="#111" stroke-width="0.12">50</text>
<text x="369.07" y="196.6" font-size="6.4" text-anchor="middle" font-weight="bold" fill="#111" textLength="10.37" lengthAdjust="spacingAndGlyphs" stroke="#111" stroke-width="0.12">100</text>
<text x="393.4" y="196.6" font-size="6.4" text-anchor="middle" font-weight="bold" fill="#111" textLength="10.37" lengthAdjust="spacingAndGlyphs" stroke="#111" stroke-width="0.12">150</text>
<text x="417.74" y="196.6" font-size="6.4" text-anchor="middle" font-weight="bold" fill="#111" textLength="10.37" lengthAdjust="spacingAndGlyphs" stroke="#111" stroke-width="0.12">200</text>
<text x="442.07" y="196.6" font-size="6.4" text-anchor="middle" font-weight="bold" fill="#111" textLength="10.37" lengthAdjust="spacingAndGlyphs" stroke="#111" stroke-width="0.12">250</text>
<text x="466.41" y="196.6" font-size="6.4" text-anchor="middle" font-weight="bold" fill="#111" textLength="10.37" lengthAdjust="spacingAndGlyphs" stroke="#111" stroke-width="0.12">300</text>
<text x="490.75" y="196.6" font-size="6.4" text-anchor="middle" font-weight="bold" fill="#111" textLength="10.37" lengthAdjust="spacingAndGlyphs" stroke="#111" stroke-width="0.12">350</text>
<text x="515.08" y="196.6" font-size="6.4" text-anchor="middle" font-weight="bold" fill="#111" textLength="10.37" lengthAdjust="spacingAndGlyphs" stroke="#111" stroke-width="0.12">400</text>
<text x="539.41" y="196.6" font-size="6.4" text-anchor="middle" font-weight="bold" fill="#111" textLength="10.37" lengthAdjust="spacingAndGlyphs" stroke="#111" stroke-width="0.12">450</text>
<text x="302.9" y="188.48" font-size="6.3" text-anchor="end" font-weight="bold" fill="#111" textLength="11.47" lengthAdjust="spacingAndGlyphs" stroke="#111" stroke-width="0.12">-0.5</text>
<text x="302.9" y="168.68" font-size="6.3" text-anchor="end" font-weight="bold" fill="#111" textLength="9.06" lengthAdjust="spacingAndGlyphs" stroke="#111" stroke-width="0.12">0.0</text>
<text x="302.9" y="148.88" font-size="6.3" text-anchor="end" font-weight="bold" fill="#111" textLength="9.06" lengthAdjust="spacingAndGlyphs" stroke="#111" stroke-width="0.12">0.5</text>
<text x="302.9" y="129.08" font-size="6.3" text-anchor="end" font-weight="bold" fill="#111" textLength="9.06" lengthAdjust="spacingAndGlyphs" stroke="#111" stroke-width="0.12">1.0</text>
<text x="302.9" y="109.28" font-size="6.3" text-anchor="end" font-weight="bold" fill="#111" textLength="9.06" lengthAdjust="spacingAndGlyphs" stroke="#111" stroke-width="0.12">1.5</text>
<text x="302.9" y="89.48" font-size="6.3" text-anchor="end" font-weight="bold" fill="#111" textLength="9.06" lengthAdjust="spacingAndGlyphs" stroke="#111" stroke-width="0.12">2.0</text>
<text x="302.9" y="69.68" font-size="6.3" text-anchor="end" font-weight="bold" fill="#111" textLength="9.06" lengthAdjust="spacingAndGlyphs" stroke="#111" stroke-width="0.12">2.5</text>
<text x="302.9" y="49.88" font-size="6.3" text-anchor="end" font-weight="bold" fill="#111" textLength="9.06" lengthAdjust="spacingAndGlyphs" stroke="#111" stroke-width="0.12">3.0</text>
<text x="302.9" y="30.08" font-size="6.3" text-anchor="end" font-weight="bold" fill="#111" textLength="9.06" lengthAdjust="spacingAndGlyphs" stroke="#111" stroke-width="0.12">3.5</text>
<text x="302.9" y="10.28" font-size="6.3" text-anchor="end" font-weight="bold" fill="#111" textLength="9.06" lengthAdjust="spacingAndGlyphs" stroke="#111" stroke-width="0.12">4.0</text>
<text x="423.7" y="207.6" font-size="9.3" text-anchor="middle" font-weight="normal" fill="#222" textLength="38.8" lengthAdjust="spacingAndGlyphs" stroke="#222" stroke-width="0.12">Time (min)</text>
<text x="290" y="96.9" font-size="8.5" text-anchor="middle" font-weight="normal" fill="#222" transform="rotate(-90 290 96.9)" textLength="93" lengthAdjust="spacingAndGlyphs" stroke="#222" stroke-width="0.12">Disintegration rate (%/min)</text>
<text x="338.2" y="23.1" font-size="17.6" text-anchor="start" font-weight="bold" fill="#111">(b)</text>
<rect x="454.1" y="10.7" width="81.6" height="58" fill="#fff" stroke="#aaa" stroke-width="0.8"/>
<line x1="455.3" y1="17.4" x2="475.4" y2="17.4" stroke="#8fcbe6" stroke-width="1.0"/>
<circle cx="465.35" cy="17.4" r="1.8" fill="#d2eaf5" stroke="#8fcbe6" stroke-width="0.7"/>
<text x="478.2" y="20.7" font-size="9.7" text-anchor="start" font-weight="normal" fill="#111" textLength="55.5" lengthAdjust="spacingAndGlyphs" stroke="#111" stroke-width="0.15">0%PAM-CMC</text>
<line x1="455.3" y1="28.6" x2="475.4" y2="28.6" stroke="#2b7cc0" stroke-width="1.6"/>
<circle cx="465.35" cy="28.6" r="1.8" fill="#75a9d6" stroke="#2b7cc0" stroke-width="0.7"/>
<text x="478.2" y="31.9" font-size="9.7" text-anchor="start" font-weight="normal" fill="#111" textLength="55.5" lengthAdjust="spacingAndGlyphs" stroke="#111" stroke-width="0.15">1%PAM-CMC</text>
<line x1="455.3" y1="39.8" x2="475.4" y2="39.8" stroke="#9fdc8c" stroke-width="1.0"/>
<circle cx="465.35" cy="39.8" r="1.8" fill="#d8f1d1" stroke="#9fdc8c" stroke-width="0.7"/>
<text x="478.2" y="43.1" font-size="9.7" text-anchor="start" font-weight="normal" fill="#111" textLength="55.5" lengthAdjust="spacingAndGlyphs" stroke="#111" stroke-width="0.15">2%PAM-CMC</text>
<line x1="455.3" y1="51" x2="475.4" y2="51" stroke="#22a02a" stroke-width="1.6"/>
<circle cx="465.35" cy="51" r="1.8" fill="#64bc69" stroke="#22a02a" stroke-width="0.7"/>
<text x="478.2" y="54.3" font-size="9.7" text-anchor="start" font-weight="normal" fill="#111" textLength="55.5" lengthAdjust="spacingAndGlyphs" stroke="#111" stroke-width="0.15">3%PAM-CMC</text>
<line x1="455.3" y1="62.2" x2="475.4" y2="62.2" stroke="#f29a9a" stroke-width="1.0"/>
<circle cx="465.35" cy="62.2" r="1.8" fill="#f9d6d6" stroke="#f29a9a" stroke-width="0.7"/>
<text x="478.2" y="65.5" font-size="9.7" text-anchor="start" font-weight="normal" fill="#111" textLength="55.5" lengthAdjust="spacingAndGlyphs" stroke="#111" stroke-width="0.15">4%PAM-CMC</text>
<g stroke="#f3f3f3" stroke-width="0.6"><line x1="318.62" y1="222.4" x2="318.62" y2="395.5"/><line x1="331.75" y1="222.4" x2="331.75" y2="395.5"/><line x1="344.87" y1="222.4" x2="344.87" y2="395.5"/><line x1="357.99" y1="222.4" x2="357.99" y2="395.5"/><line x1="371.11" y1="222.4" x2="371.11" y2="395.5"/><line x1="384.24" y1="222.4" x2="384.24" y2="395.5"/><line x1="397.36" y1="222.4" x2="397.36" y2="395.5"/><line x1="410.48" y1="222.4" x2="410.48" y2="395.5"/><line x1="423.6" y1="222.4" x2="423.6" y2="395.5"/><line x1="436.73" y1="222.4" x2="436.73" y2="395.5"/><line x1="449.85" y1="222.4" x2="449.85" y2="395.5"/><line x1="462.97" y1="222.4" x2="462.97" y2="395.5"/><line x1="476.09" y1="222.4" x2="476.09" y2="395.5"/><line x1="489.22" y1="222.4" x2="489.22" y2="395.5"/><line x1="502.34" y1="222.4" x2="502.34" y2="395.5"/><line x1="515.46" y1="222.4" x2="515.46" y2="395.5"/><line x1="528.58" y1="222.4" x2="528.58" y2="395.5"/><line x1="305.3" y1="384.2" x2="541.7" y2="384.2"/><line x1="305.3" y1="372.66" x2="541.7" y2="372.66"/><line x1="305.3" y1="361.12" x2="541.7" y2="361.12"/><line x1="305.3" y1="349.58" x2="541.7" y2="349.58"/><line x1="305.3" y1="338.04" x2="541.7" y2="338.04"/><line x1="305.3" y1="326.5" x2="541.7" y2="326.5"/><line x1="305.3" y1="314.96" x2="541.7" y2="314.96"/><line x1="305.3" y1="303.42" x2="541.7" y2="303.42"/><line x1="305.3" y1="291.88" x2="541.7" y2="291.88"/><line x1="305.3" y1="280.34" x2="541.7" y2="280.34"/><line x1="305.3" y1="268.8" x2="541.7" y2="268.8"/><line x1="305.3" y1="257.26" x2="541.7" y2="257.26"/><line x1="305.3" y1="245.72" x2="541.7" y2="245.72"/><line x1="305.3" y1="234.18" x2="541.7" y2="234.18"/></g>
<g stroke="#333" stroke-width="0.8"><line x1="305.5" y1="395.5" x2="305.5" y2="398.5"/><line x1="331.75" y1="395.5" x2="331.75" y2="398.5"/><line x1="357.99" y1="395.5" x2="357.99" y2="398.5"/><line x1="384.24" y1="395.5" x2="384.24" y2="398.5"/><line x1="410.48" y1="395.5" x2="410.48" y2="398.5"/><line x1="436.73" y1="395.5" x2="436.73" y2="398.5"/><line x1="462.97" y1="395.5" x2="462.97" y2="398.5"/><line x1="489.22" y1="395.5" x2="489.22" y2="398.5"/><line x1="515.46" y1="395.5" x2="515.46" y2="398.5"/><line x1="541.71" y1="395.5" x2="541.71" y2="398.5"/><line x1="318.62" y1="395.5" x2="318.62" y2="397.3"/><line x1="344.87" y1="395.5" x2="344.87" y2="397.3"/><line x1="371.11" y1="395.5" x2="371.11" y2="397.3"/><line x1="397.36" y1="395.5" x2="397.36" y2="397.3"/><line x1="423.6" y1="395.5" x2="423.6" y2="397.3"/><line x1="449.85" y1="395.5" x2="449.85" y2="397.3"/><line x1="476.09" y1="395.5" x2="476.09" y2="397.3"/><line x1="502.34" y1="395.5" x2="502.34" y2="397.3"/><line x1="528.58" y1="395.5" x2="528.58" y2="397.3"/><line x1="302.3" y1="384.2" x2="305.3" y2="384.2"/><line x1="302.3" y1="361.12" x2="305.3" y2="361.12"/><line x1="302.3" y1="338.04" x2="305.3" y2="338.04"/><line x1="302.3" y1="314.96" x2="305.3" y2="314.96"/><line x1="302.3" y1="291.88" x2="305.3" y2="291.88"/><line x1="302.3" y1="268.8" x2="305.3" y2="268.8"/><line x1="302.3" y1="245.72" x2="305.3" y2="245.72"/><line x1="302.3" y1="222.64" x2="305.3" y2="222.64"/><line x1="303.5" y1="395.74" x2="305.3" y2="395.74"/><line x1="303.5" y1="372.66" x2="305.3" y2="372.66"/><line x1="303.5" y1="349.58" x2="305.3" y2="349.58"/><line x1="303.5" y1="326.5" x2="305.3" y2="326.5"/><line x1="303.5" y1="303.42" x2="305.3" y2="303.42"/><line x1="303.5" y1="280.34" x2="305.3" y2="280.34"/><line x1="303.5" y1="257.26" x2="305.3" y2="257.26"/><line x1="303.5" y1="234.18" x2="305.3" y2="234.18"/></g>
<g clip-path="url(#cd)"><polyline points="305.5,381.89 307.07,370.35 308.65,328.81 310.75,342.66 312.85,314.96 314.95,356.5 316.52,324.19 318.88,248.03 321.25,323.27 323.87,351.89 326.5,361.12 329.49,279.42 331.75,351.89 336.99,364.35 342.24,374.04 347.7,374.51 353,361.58 357.99,376.81 363.24,379.58 368.49,378.66 373.74,381.89 378.99,380.51 384.24,382.35 389.48,381.89 394.73,381.89 399.98,382.35 405.23,383.28 410.48,382.82 415.73,383.28 420.98,382.82" fill="none" stroke="#8fcbe6" stroke-width="0.9" stroke-linejoin="round"/><circle cx="305.5" cy="381.89" r="1.8" fill="#d2eaf5" stroke="#8fcbe6" stroke-width="0.7"/><circle cx="307.07" cy="370.35" r="1.8" fill="#d2eaf5" stroke="#8fcbe6" stroke-width="0.7"/><circle cx="308.65" cy="328.81" r="1.8" fill="#d2eaf5" stroke="#8fcbe6" stroke-width="0.7"/><circle cx="310.75" cy="342.66" r="1.8" fill="#d2eaf5" stroke="#8fcbe6" stroke-width="0.7"/><circle cx="312.85" cy="314.96" r="1.8" fill="#d2eaf5" stroke="#8fcbe6" stroke-width="0.7"/><circle cx="314.95" cy="356.5" r="1.8" fill="#d2eaf5" stroke="#8fcbe6" stroke-width="0.7"/><circle cx="316.52" cy="324.19" r="1.8" fill="#d2eaf5" stroke="#8fcbe6" stroke-width="0.7"/><circle cx="318.88" cy="248.03" r="1.8" fill="#d2eaf5" stroke="#8fcbe6" stroke-width="0.7"/><circle cx="321.25" cy="323.27" r="1.8" fill="#d2eaf5" stroke="#8fcbe6" stroke-width="0.7"/><circle cx="323.87" cy="351.89" r="1.8" fill="#d2eaf5" stroke="#8fcbe6" stroke-width="0.7"/><circle cx="326.5" cy="361.12" r="1.8" fill="#d2eaf5" stroke="#8fcbe6" stroke-width="0.7"/><circle cx="329.49" cy="279.42" r="1.8" fill="#d2eaf5" stroke="#8fcbe6" stroke-width="0.7"/><circle cx="331.75" cy="351.89" r="1.8" fill="#d2eaf5" stroke="#8fcbe6" stroke-width="0.7"/><circle cx="336.99" cy="364.35" r="1.8" fill="#d2eaf5" stroke="#8fcbe6" stroke-width="0.7"/><circle cx="342.24" cy="374.04" r="1.8" fill="#d2eaf5" stroke="#8fcbe6" stroke-width="0.7"/><circle cx="347.7" cy="374.51" r="1.8" fill="#d2eaf5" stroke="#8fcbe6" stroke-width="0.7"/><circle cx="353" cy="361.58" r="1.8" fill="#d2eaf5" stroke="#8fcbe6" stroke-width="0.7"/><circle cx="357.99" cy="376.81" r="1.8" fill="#d2eaf5" stroke="#8fcbe6" stroke-width="0.7"/><circle cx="363.24" cy="379.58" r="1.8" fill="#d2eaf5" stroke="#8fcbe6" stroke-width="0.7"/><circle cx="368.49" cy="378.66" r="1.8" fill="#d2eaf5" stroke="#8fcbe6" stroke-width="0.7"/><circle cx="373.74" cy="381.89" r="1.8" fill="#d2eaf5" stroke="#8fcbe6" stroke-width="0.7"/><circle cx="378.99" cy="380.51" r="1.8" fill="#d2eaf5" stroke="#8fcbe6" stroke-width="0.7"/><circle cx="384.24" cy="382.35" r="1.8" fill="#d2eaf5" stroke="#8fcbe6" stroke-width="0.7"/><circle cx="389.48" cy="381.89" r="1.8" fill="#d2eaf5" stroke="#8fcbe6" stroke-width="0.7"/><circle cx="394.73" cy="381.89" r="1.8" fill="#d2eaf5" stroke="#8fcbe6" stroke-width="0.7"/><circle cx="399.98" cy="382.35" r="1.8" fill="#d2eaf5" stroke="#8fcbe6" stroke-width="0.7"/><circle cx="405.23" cy="383.28" r="1.8" fill="#d2eaf5" stroke="#8fcbe6" stroke-width="0.7"/><circle cx="410.48" cy="382.82" r="1.8" fill="#d2eaf5" stroke="#8fcbe6" stroke-width="0.7"/><circle cx="415.73" cy="383.28" r="1.8" fill="#d2eaf5" stroke="#8fcbe6" stroke-width="0.7"/><circle cx="420.98" cy="382.82" r="1.8" fill="#d2eaf5" stroke="#8fcbe6" stroke-width="0.7"/></g>
<g clip-path="url(#cd)"><polyline points="305.5,383.28 306.55,379.58 307.6,375.43 308.12,349.58 308.91,328.81 309.7,349.58 310.59,315.88 313.01,377.28 314.21,333.42 314.95,283.11 315.89,243.41 317.05,312.65 318.31,373.12 321.25,364.81 326.5,319.58 331.22,376.35 336.99,378.2 342.4,377.28 347.49,362.97 353,369.43 358.3,374.51 363.61,369.43 369.01,376.81 374,377.74 378.99,381.43 384.24,380.05 389.48,378.2 395,376.81 400.51,373.12 405.49,370.81 410.48,364.81 415.99,364.35 420.98,368.51 426.23,375.89 431.48,379.58" fill="none" stroke="#2b7cc0" stroke-width="1.1" stroke-linejoin="round"/><circle cx="305.5" cy="383.28" r="1.8" fill="#75a9d6" stroke="#2b7cc0" stroke-width="0.7"/><circle cx="306.55" cy="379.58" r="1.8" fill="#75a9d6" stroke="#2b7cc0" stroke-width="0.7"/><circle cx="307.6" cy="375.43" r="1.8" fill="#75a9d6" stroke="#2b7cc0" stroke-width="0.7"/><circle cx="308.12" cy="349.58" r="1.8" fill="#75a9d6" stroke="#2b7cc0" stroke-width="0.7"/><circle cx="308.91" cy="328.81" r="1.8" fill="#75a9d6" stroke="#2b7cc0" stroke-width="0.7"/><circle cx="309.7" cy="349.58" r="1.8" fill="#75a9d6" stroke="#2b7cc0" stroke-width="0.7"/><circle cx="310.59" cy="315.88" r="1.8" fill="#75a9d6" stroke="#2b7cc0" stroke-width="0.7"/><circle cx="313.01" cy="377.28" r="1.8" fill="#75a9d6" stroke="#2b7cc0" stroke-width="0.7"/><circle cx="314.21" cy="333.42" r="1.8" fill="#75a9d6" stroke="#2b7cc0" stroke-width="0.7"/><circle cx="314.95" cy="283.11" r="1.8" fill="#75a9d6" stroke="#2b7cc0" stroke-width="0.7"/><circle cx="315.89" cy="243.41" r="1.8" fill="#75a9d6" stroke="#2b7cc0" stroke-width="0.7"/><circle cx="317.05" cy="312.65" r="1.8" fill="#75a9d6" stroke="#2b7cc0" stroke-width="0.7"/><circle cx="318.31" cy="373.12" r="1.8" fill="#75a9d6" stroke="#2b7cc0" stroke-width="0.7"/><circle cx="321.25" cy="364.81" r="1.8" fill="#75a9d6" stroke="#2b7cc0" stroke-width="0.7"/><circle cx="326.5" cy="319.58" r="1.8" fill="#75a9d6" stroke="#2b7cc0" stroke-width="0.7"/><circle cx="331.22" cy="376.35" r="1.8" fill="#75a9d6" stroke="#2b7cc0" stroke-width="0.7"/><circle cx="336.99" cy="378.2" r="1.8" fill="#75a9d6" stroke="#2b7cc0" stroke-width="0.7"/><circle cx="342.4" cy="377.28" r="1.8" fill="#75a9d6" stroke="#2b7cc0" stroke-width="0.7"/><circle cx="347.49" cy="362.97" r="1.8" fill="#75a9d6" stroke="#2b7cc0" stroke-width="0.7"/><circle cx="353" cy="369.43" r="1.8" fill="#75a9d6" stroke="#2b7cc0" stroke-width="0.7"/><circle cx="358.3" cy="374.51" r="1.8" fill="#75a9d6" stroke="#2b7cc0" stroke-width="0.7"/><circle cx="363.61" cy="369.43" r="1.8" fill="#75a9d6" stroke="#2b7cc0" stroke-width="0.7"/><circle cx="369.01" cy="376.81" r="1.8" fill="#75a9d6" stroke="#2b7cc0" stroke-width="0.7"/><circle cx="374" cy="377.74" r="1.8" fill="#75a9d6" stroke="#2b7cc0" stroke-width="0.7"/><circle cx="378.99" cy="381.43" r="1.8" fill="#75a9d6" stroke="#2b7cc0" stroke-width="0.7"/><circle cx="384.24" cy="380.05" r="1.8" fill="#75a9d6" stroke="#2b7cc0" stroke-width="0.7"/><circle cx="389.48" cy="378.2" r="1.8" fill="#75a9d6" stroke="#2b7cc0" stroke-width="0.7"/><circle cx="395" cy="376.81" r="1.8" fill="#75a9d6" stroke="#2b7cc0" stroke-width="0.7"/><circle cx="400.51" cy="373.12" r="1.8" fill="#75a9d6" stroke="#2b7cc0" stroke-width="0.7"/><circle cx="405.49" cy="370.81" r="1.8" fill="#75a9d6" stroke="#2b7cc0" stroke-width="0.7"/><circle cx="410.48" cy="364.81" r="1.8" fill="#75a9d6" stroke="#2b7cc0" stroke-width="0.7"/><circle cx="415.99" cy="364.35" r="1.8" fill="#75a9d6" stroke="#2b7cc0" stroke-width="0.7"/><circle cx="420.98" cy="368.51" r="1.8" fill="#75a9d6" stroke="#2b7cc0" stroke-width="0.7"/><circle cx="426.23" cy="375.89" r="1.8" fill="#75a9d6" stroke="#2b7cc0" stroke-width="0.7"/><circle cx="431.48" cy="379.58" r="1.8" fill="#75a9d6" stroke="#2b7cc0" stroke-width="0.7"/></g>
<g clip-path="url(#cd)"><polyline points="305.5,383.28 310.75,381.89 316,382.35 321.25,381.43 326.5,381.89 331.75,381.89 336.99,382.82 342.24,377.28 347.49,380.97 352.74,373.12 357.99,370.35 363.24,377.28 368.49,380.51 373.74,378.66 380.88,377.74 385.28,378.2 389.48,375.43 394.73,370.35 399.98,376.81 405.49,379.58 410.48,378.2 415.73,378.66 420.98,378.66 426.23,376.35 431.48,379.58 436.41,370.81 441.82,372.2 447.22,380.51 452.47,382.35 457.72,380.51 463.28,381.89 468.22,376.35 473.47,374.97 478.51,376.81 483.91,383.74 489.22,381.43 494.31,374.97 499.19,379.58 504.44,380.97 510.21,374.97 514.94,382.35 520.71,382.82 526.33,382.82 531.47,380.97 536.72,379.58 541.71,373.12" fill="none" stroke="#9fdc8c" stroke-width="0.9" stroke-linejoin="round"/><circle cx="305.5" cy="383.28" r="1.8" fill="#d8f1d1" stroke="#9fdc8c" stroke-width="0.7"/><circle cx="310.75" cy="381.89" r="1.8" fill="#d8f1d1" stroke="#9fdc8c" stroke-width="0.7"/><circle cx="316" cy="382.35" r="1.8" fill="#d8f1d1" stroke="#9fdc8c" stroke-width="0.7"/><circle cx="321.25" cy="381.43" r="1.8" fill="#d8f1d1" stroke="#9fdc8c" stroke-width="0.7"/><circle cx="326.5" cy="381.89" r="1.8" fill="#d8f1d1" stroke="#9fdc8c" stroke-width="0.7"/><circle cx="331.75" cy="381.89" r="1.8" fill="#d8f1d1" stroke="#9fdc8c" stroke-width="0.7"/><circle cx="336.99" cy="382.82" r="1.8" fill="#d8f1d1" stroke="#9fdc8c" stroke-width="0.7"/><circle cx="342.24" cy="377.28" r="1.8" fill="#d8f1d1" stroke="#9fdc8c" stroke-width="0.7"/><circle cx="347.49" cy="380.97" r="1.8" fill="#d8f1d1" stroke="#9fdc8c" stroke-width="0.7"/><circle cx="352.74" cy="373.12" r="1.8" fill="#d8f1d1" stroke="#9fdc8c" stroke-width="0.7"/><circle cx="357.99" cy="370.35" r="1.8" fill="#d8f1d1" stroke="#9fdc8c" stroke-width="0.7"/><circle cx="363.24" cy="377.28" r="1.8" fill="#d8f1d1" stroke="#9fdc8c" stroke-width="0.7"/><circle cx="368.49" cy="380.51" r="1.8" fill="#d8f1d1" stroke="#9fdc8c" stroke-width="0.7"/><circle cx="373.74" cy="378.66" r="1.8" fill="#d8f1d1" stroke="#9fdc8c" stroke-width="0.7"/><circle cx="380.88" cy="377.74" r="1.8" fill="#d8f1d1" stroke="#9fdc8c" stroke-width="0.7"/><circle cx="385.28" cy="378.2" r="1.8" fill="#d8f1d1" stroke="#9fdc8c" stroke-width="0.7"/><circle cx="389.48" cy="375.43" r="1.8" fill="#d8f1d1" stroke="#9fdc8c" stroke-width="0.7"/><circle cx="394.73" cy="370.35" r="1.8" fill="#d8f1d1" stroke="#9fdc8c" stroke-width="0.7"/><circle cx="399.98" cy="376.81" r="1.8" fill="#d8f1d1" stroke="#9fdc8c" stroke-width="0.7"/><circle cx="405.49" cy="379.58" r="1.8" fill="#d8f1d1" stroke="#9fdc8c" stroke-width="0.7"/><circle cx="410.48" cy="378.2" r="1.8" fill="#d8f1d1" stroke="#9fdc8c" stroke-width="0.7"/><circle cx="415.73" cy="378.66" r="1.8" fill="#d8f1d1" stroke="#9fdc8c" stroke-width="0.7"/><circle cx="420.98" cy="378.66" r="1.8" fill="#d8f1d1" stroke="#9fdc8c" stroke-width="0.7"/><circle cx="426.23" cy="376.35" r="1.8" fill="#d8f1d1" stroke="#9fdc8c" stroke-width="0.7"/><circle cx="431.48" cy="379.58" r="1.8" fill="#d8f1d1" stroke="#9fdc8c" stroke-width="0.7"/><circle cx="436.41" cy="370.81" r="1.8" fill="#d8f1d1" stroke="#9fdc8c" stroke-width="0.7"/><circle cx="441.82" cy="372.2" r="1.8" fill="#d8f1d1" stroke="#9fdc8c" stroke-width="0.7"/><circle cx="447.22" cy="380.51" r="1.8" fill="#d8f1d1" stroke="#9fdc8c" stroke-width="0.7"/><circle cx="452.47" cy="382.35" r="1.8" fill="#d8f1d1" stroke="#9fdc8c" stroke-width="0.7"/><circle cx="457.72" cy="380.51" r="1.8" fill="#d8f1d1" stroke="#9fdc8c" stroke-width="0.7"/><circle cx="463.28" cy="381.89" r="1.8" fill="#d8f1d1" stroke="#9fdc8c" stroke-width="0.7"/><circle cx="468.22" cy="376.35" r="1.8" fill="#d8f1d1" stroke="#9fdc8c" stroke-width="0.7"/><circle cx="473.47" cy="374.97" r="1.8" fill="#d8f1d1" stroke="#9fdc8c" stroke-width="0.7"/><circle cx="478.51" cy="376.81" r="1.8" fill="#d8f1d1" stroke="#9fdc8c" stroke-width="0.7"/><circle cx="483.91" cy="383.74" r="1.8" fill="#d8f1d1" stroke="#9fdc8c" stroke-width="0.7"/><circle cx="489.22" cy="381.43" r="1.8" fill="#d8f1d1" stroke="#9fdc8c" stroke-width="0.7"/><circle cx="494.31" cy="374.97" r="1.8" fill="#d8f1d1" stroke="#9fdc8c" stroke-width="0.7"/><circle cx="499.19" cy="379.58" r="1.8" fill="#d8f1d1" stroke="#9fdc8c" stroke-width="0.7"/><circle cx="504.44" cy="380.97" r="1.8" fill="#d8f1d1" stroke="#9fdc8c" stroke-width="0.7"/><circle cx="510.21" cy="374.97" r="1.8" fill="#d8f1d1" stroke="#9fdc8c" stroke-width="0.7"/><circle cx="514.94" cy="382.35" r="1.8" fill="#d8f1d1" stroke="#9fdc8c" stroke-width="0.7"/><circle cx="520.71" cy="382.82" r="1.8" fill="#d8f1d1" stroke="#9fdc8c" stroke-width="0.7"/><circle cx="526.33" cy="382.82" r="1.8" fill="#d8f1d1" stroke="#9fdc8c" stroke-width="0.7"/><circle cx="531.47" cy="380.97" r="1.8" fill="#d8f1d1" stroke="#9fdc8c" stroke-width="0.7"/><circle cx="536.72" cy="379.58" r="1.8" fill="#d8f1d1" stroke="#9fdc8c" stroke-width="0.7"/><circle cx="541.71" cy="373.12" r="1.8" fill="#d8f1d1" stroke="#9fdc8c" stroke-width="0.7"/></g>
<g clip-path="url(#cd)"><polyline points="305.5,380.97 310.75,380.97 316,380.97 321.25,380.97 326.5,380.97 331.75,380.97 336.99,380.97 342.24,380.97 347.49,380.97 352.74,380.97 357.99,380.97 363.24,380.97 368.49,380.97 373.74,380.97 378.99,380.97 384.24,380.97 389.48,380.97 394.73,380.97 399.98,380.97 405.23,380.97 410.48,380.97 415.73,383.74 420.98,383.74 426.23,383.74 431.48,383.74 436.73,383.74 441.97,383.74 447.22,383.74 452.47,383.74 457.72,383.74 462.97,383.74 468.22,383.74 473.47,383.74 478.72,383.74 483.97,383.74 489.22,383.74 494.46,383.74 499.71,383.74 504.96,383.74 510.21,383.74 515.46,383.74 520.71,383.74 525.96,383.74 531.21,383.74 536.46,383.74 541.71,383.74" fill="none" stroke="#22a02a" stroke-width="1.2" stroke-linejoin="round"/><circle cx="305.5" cy="380.97" r="1.8" fill="#64bc69" stroke="#22a02a" stroke-width="0.7"/><circle cx="310.75" cy="380.97" r="1.8" fill="#64bc69" stroke="#22a02a" stroke-width="0.7"/><circle cx="316" cy="380.97" r="1.8" fill="#64bc69" stroke="#22a02a" stroke-width="0.7"/><circle cx="321.25" cy="380.97" r="1.8" fill="#64bc69" stroke="#22a02a" stroke-width="0.7"/><circle cx="326.5" cy="380.97" r="1.8" fill="#64bc69" stroke="#22a02a" stroke-width="0.7"/><circle cx="331.75" cy="380.97" r="1.8" fill="#64bc69" stroke="#22a02a" stroke-width="0.7"/><circle cx="336.99" cy="380.97" r="1.8" fill="#64bc69" stroke="#22a02a" stroke-width="0.7"/><circle cx="342.24" cy="380.97" r="1.8" fill="#64bc69" stroke="#22a02a" stroke-width="0.7"/><circle cx="347.49" cy="380.97" r="1.8" fill="#64bc69" stroke="#22a02a" stroke-width="0.7"/><circle cx="352.74" cy="380.97" r="1.8" fill="#64bc69" stroke="#22a02a" stroke-width="0.7"/><circle cx="357.99" cy="380.97" r="1.8" fill="#64bc69" stroke="#22a02a" stroke-width="0.7"/><circle cx="363.24" cy="380.97" r="1.8" fill="#64bc69" stroke="#22a02a" stroke-width="0.7"/><circle cx="368.49" cy="380.97" r="1.8" fill="#64bc69" stroke="#22a02a" stroke-width="0.7"/><circle cx="373.74" cy="380.97" r="1.8" fill="#64bc69" stroke="#22a02a" stroke-width="0.7"/><circle cx="378.99" cy="380.97" r="1.8" fill="#64bc69" stroke="#22a02a" stroke-width="0.7"/><circle cx="384.24" cy="380.97" r="1.8" fill="#64bc69" stroke="#22a02a" stroke-width="0.7"/><circle cx="389.48" cy="380.97" r="1.8" fill="#64bc69" stroke="#22a02a" stroke-width="0.7"/><circle cx="394.73" cy="380.97" r="1.8" fill="#64bc69" stroke="#22a02a" stroke-width="0.7"/><circle cx="399.98" cy="380.97" r="1.8" fill="#64bc69" stroke="#22a02a" stroke-width="0.7"/><circle cx="405.23" cy="380.97" r="1.8" fill="#64bc69" stroke="#22a02a" stroke-width="0.7"/><circle cx="410.48" cy="380.97" r="1.8" fill="#64bc69" stroke="#22a02a" stroke-width="0.7"/><circle cx="415.73" cy="383.74" r="1.8" fill="#64bc69" stroke="#22a02a" stroke-width="0.7"/><circle cx="420.98" cy="383.74" r="1.8" fill="#64bc69" stroke="#22a02a" stroke-width="0.7"/><circle cx="426.23" cy="383.74" r="1.8" fill="#64bc69" stroke="#22a02a" stroke-width="0.7"/><circle cx="431.48" cy="383.74" r="1.8" fill="#64bc69" stroke="#22a02a" stroke-width="0.7"/><circle cx="436.73" cy="383.74" r="1.8" fill="#64bc69" stroke="#22a02a" stroke-width="0.7"/><circle cx="441.97" cy="383.74" r="1.8" fill="#64bc69" stroke="#22a02a" stroke-width="0.7"/><circle cx="447.22" cy="383.74" r="1.8" fill="#64bc69" stroke="#22a02a" stroke-width="0.7"/><circle cx="452.47" cy="383.74" r="1.8" fill="#64bc69" stroke="#22a02a" stroke-width="0.7"/><circle cx="457.72" cy="383.74" r="1.8" fill="#64bc69" stroke="#22a02a" stroke-width="0.7"/><circle cx="462.97" cy="383.74" r="1.8" fill="#64bc69" stroke="#22a02a" stroke-width="0.7"/><circle cx="468.22" cy="383.74" r="1.8" fill="#64bc69" stroke="#22a02a" stroke-width="0.7"/><circle cx="473.47" cy="383.74" r="1.8" fill="#64bc69" stroke="#22a02a" stroke-width="0.7"/><circle cx="478.72" cy="383.74" r="1.8" fill="#64bc69" stroke="#22a02a" stroke-width="0.7"/><circle cx="483.97" cy="383.74" r="1.8" fill="#64bc69" stroke="#22a02a" stroke-width="0.7"/><circle cx="489.22" cy="383.74" r="1.8" fill="#64bc69" stroke="#22a02a" stroke-width="0.7"/><circle cx="494.46" cy="383.74" r="1.8" fill="#64bc69" stroke="#22a02a" stroke-width="0.7"/><circle cx="499.71" cy="383.74" r="1.8" fill="#64bc69" stroke="#22a02a" stroke-width="0.7"/><circle cx="504.96" cy="383.74" r="1.8" fill="#64bc69" stroke="#22a02a" stroke-width="0.7"/><circle cx="510.21" cy="383.74" r="1.8" fill="#64bc69" stroke="#22a02a" stroke-width="0.7"/><circle cx="515.46" cy="383.74" r="1.8" fill="#64bc69" stroke="#22a02a" stroke-width="0.7"/><circle cx="520.71" cy="383.74" r="1.8" fill="#64bc69" stroke="#22a02a" stroke-width="0.7"/><circle cx="525.96" cy="383.74" r="1.8" fill="#64bc69" stroke="#22a02a" stroke-width="0.7"/><circle cx="531.21" cy="383.74" r="1.8" fill="#64bc69" stroke="#22a02a" stroke-width="0.7"/><circle cx="536.46" cy="383.74" r="1.8" fill="#64bc69" stroke="#22a02a" stroke-width="0.7"/><circle cx="541.71" cy="383.74" r="1.8" fill="#64bc69" stroke="#22a02a" stroke-width="0.7"/></g>
<g clip-path="url(#cd)"><polyline points="305.5,383.28 310.75,383.28 316,383.28 321.25,383.28 326.5,383.28 331.75,383.28 336.99,383.28 342.24,383.28 347.49,383.28 352.74,383.28 357.99,383.28 363.24,383.28 368.49,383.28 373.74,383.28 378.99,383.28 384.24,383.28 389.48,383.28 394.73,383.28 399.98,383.28 405.23,383.28 410.48,383.28 415.73,383.28 420.98,383.28 426.23,383.28 431.48,383.28 436.73,383.28 441.97,383.28 447.22,383.28 452.47,383.28 457.72,383.28 462.97,383.28 468.22,383.28 473.47,383.28 478.72,383.28 483.97,383.28 489.22,380.97 494.46,379.58 499.71,382.82 504.96,383.74 510.21,383.74 515.46,383.74 520.71,383.74 525.96,383.74 531.21,383.74 536.46,383.74 541.71,383.74" fill="none" stroke="#f29a9a" stroke-width="0.9" stroke-linejoin="round"/><circle cx="305.5" cy="383.28" r="1.8" fill="#f9d6d6" stroke="#f29a9a" stroke-width="0.7"/><circle cx="310.75" cy="383.28" r="1.8" fill="#f9d6d6" stroke="#f29a9a" stroke-width="0.7"/><circle cx="316" cy="383.28" r="1.8" fill="#f9d6d6" stroke="#f29a9a" stroke-width="0.7"/><circle cx="321.25" cy="383.28" r="1.8" fill="#f9d6d6" stroke="#f29a9a" stroke-width="0.7"/><circle cx="326.5" cy="383.28" r="1.8" fill="#f9d6d6" stroke="#f29a9a" stroke-width="0.7"/><circle cx="331.75" cy="383.28" r="1.8" fill="#f9d6d6" stroke="#f29a9a" stroke-width="0.7"/><circle cx="336.99" cy="383.28" r="1.8" fill="#f9d6d6" stroke="#f29a9a" stroke-width="0.7"/><circle cx="342.24" cy="383.28" r="1.8" fill="#f9d6d6" stroke="#f29a9a" stroke-width="0.7"/><circle cx="347.49" cy="383.28" r="1.8" fill="#f9d6d6" stroke="#f29a9a" stroke-width="0.7"/><circle cx="352.74" cy="383.28" r="1.8" fill="#f9d6d6" stroke="#f29a9a" stroke-width="0.7"/><circle cx="357.99" cy="383.28" r="1.8" fill="#f9d6d6" stroke="#f29a9a" stroke-width="0.7"/><circle cx="363.24" cy="383.28" r="1.8" fill="#f9d6d6" stroke="#f29a9a" stroke-width="0.7"/><circle cx="368.49" cy="383.28" r="1.8" fill="#f9d6d6" stroke="#f29a9a" stroke-width="0.7"/><circle cx="373.74" cy="383.28" r="1.8" fill="#f9d6d6" stroke="#f29a9a" stroke-width="0.7"/><circle cx="378.99" cy="383.28" r="1.8" fill="#f9d6d6" stroke="#f29a9a" stroke-width="0.7"/><circle cx="384.24" cy="383.28" r="1.8" fill="#f9d6d6" stroke="#f29a9a" stroke-width="0.7"/><circle cx="389.48" cy="383.28" r="1.8" fill="#f9d6d6" stroke="#f29a9a" stroke-width="0.7"/><circle cx="394.73" cy="383.28" r="1.8" fill="#f9d6d6" stroke="#f29a9a" stroke-width="0.7"/><circle cx="399.98" cy="383.28" r="1.8" fill="#f9d6d6" stroke="#f29a9a" stroke-width="0.7"/><circle cx="405.23" cy="383.28" r="1.8" fill="#f9d6d6" stroke="#f29a9a" stroke-width="0.7"/><circle cx="410.48" cy="383.28" r="1.8" fill="#f9d6d6" stroke="#f29a9a" stroke-width="0.7"/><circle cx="415.73" cy="383.28" r="1.8" fill="#f9d6d6" stroke="#f29a9a" stroke-width="0.7"/><circle cx="420.98" cy="383.28" r="1.8" fill="#f9d6d6" stroke="#f29a9a" stroke-width="0.7"/><circle cx="426.23" cy="383.28" r="1.8" fill="#f9d6d6" stroke="#f29a9a" stroke-width="0.7"/><circle cx="431.48" cy="383.28" r="1.8" fill="#f9d6d6" stroke="#f29a9a" stroke-width="0.7"/><circle cx="436.73" cy="383.28" r="1.8" fill="#f9d6d6" stroke="#f29a9a" stroke-width="0.7"/><circle cx="441.97" cy="383.28" r="1.8" fill="#f9d6d6" stroke="#f29a9a" stroke-width="0.7"/><circle cx="447.22" cy="383.28" r="1.8" fill="#f9d6d6" stroke="#f29a9a" stroke-width="0.7"/><circle cx="452.47" cy="383.28" r="1.8" fill="#f9d6d6" stroke="#f29a9a" stroke-width="0.7"/><circle cx="457.72" cy="383.28" r="1.8" fill="#f9d6d6" stroke="#f29a9a" stroke-width="0.7"/><circle cx="462.97" cy="383.28" r="1.8" fill="#f9d6d6" stroke="#f29a9a" stroke-width="0.7"/><circle cx="468.22" cy="383.28" r="1.8" fill="#f9d6d6" stroke="#f29a9a" stroke-width="0.7"/><circle cx="473.47" cy="383.28" r="1.8" fill="#f9d6d6" stroke="#f29a9a" stroke-width="0.7"/><circle cx="478.72" cy="383.28" r="1.8" fill="#f9d6d6" stroke="#f29a9a" stroke-width="0.7"/><circle cx="483.97" cy="383.28" r="1.8" fill="#f9d6d6" stroke="#f29a9a" stroke-width="0.7"/><circle cx="489.22" cy="380.97" r="1.8" fill="#f9d6d6" stroke="#f29a9a" stroke-width="0.7"/><circle cx="494.46" cy="379.58" r="1.8" fill="#f9d6d6" stroke="#f29a9a" stroke-width="0.7"/><circle cx="499.71" cy="382.82" r="1.8" fill="#f9d6d6" stroke="#f29a9a" stroke-width="0.7"/><circle cx="504.96" cy="383.74" r="1.8" fill="#f9d6d6" stroke="#f29a9a" stroke-width="0.7"/><circle cx="510.21" cy="383.74" r="1.8" fill="#f9d6d6" stroke="#f29a9a" stroke-width="0.7"/><circle cx="515.46" cy="383.74" r="1.8" fill="#f9d6d6" stroke="#f29a9a" stroke-width="0.7"/><circle cx="520.71" cy="383.74" r="1.8" fill="#f9d6d6" stroke="#f29a9a" stroke-width="0.7"/><circle cx="525.96" cy="383.74" r="1.8" fill="#f9d6d6" stroke="#f29a9a" stroke-width="0.7"/><circle cx="531.21" cy="383.74" r="1.8" fill="#f9d6d6" stroke="#f29a9a" stroke-width="0.7"/><circle cx="536.46" cy="383.74" r="1.8" fill="#f9d6d6" stroke="#f29a9a" stroke-width="0.7"/><circle cx="541.71" cy="383.74" r="1.8" fill="#f9d6d6" stroke="#f29a9a" stroke-width="0.7"/></g>
<line x1="305.3" y1="222.4" x2="541.7" y2="222.4" stroke="#555" stroke-width="1.1"/><line x1="541.7" y1="222.4" x2="541.7" y2="395.5" stroke="#8a8a8a" stroke-width="1.4"/><line x1="305.3" y1="221.9" x2="305.3" y2="396" stroke="#666" stroke-width="1.1"/><line x1="304.8" y1="395.5" x2="542.2" y2="395.5" stroke="#555" stroke-width="1.2"/>
<text x="305.5" y="405.9" font-size="7.0" text-anchor="middle" font-weight="normal" fill="#111" textLength="3.5" lengthAdjust="spacingAndGlyphs" stroke="#111" stroke-width="0.12">0</text>
<text x="331.75" y="405.9" font-size="7.0" text-anchor="middle" font-weight="normal" fill="#111" textLength="7" lengthAdjust="spacingAndGlyphs" stroke="#111" stroke-width="0.12">50</text>
<text x="357.99" y="405.9" font-size="7.0" text-anchor="middle" font-weight="normal" fill="#111" textLength="10.5" lengthAdjust="spacingAndGlyphs" stroke="#111" stroke-width="0.12">100</text>
<text x="384.24" y="405.9" font-size="7.0" text-anchor="middle" font-weight="normal" fill="#111" textLength="10.5" lengthAdjust="spacingAndGlyphs" stroke="#111" stroke-width="0.12">150</text>
<text x="410.48" y="405.9" font-size="7.0" text-anchor="middle" font-weight="normal" fill="#111" textLength="10.5" lengthAdjust="spacingAndGlyphs" stroke="#111" stroke-width="0.12">200</text>
<text x="436.73" y="405.9" font-size="7.0" text-anchor="middle" font-weight="normal" fill="#111" textLength="10.5" lengthAdjust="spacingAndGlyphs" stroke="#111" stroke-width="0.12">250</text>
<text x="462.97" y="405.9" font-size="7.0" text-anchor="middle" font-weight="normal" fill="#111" textLength="10.5" lengthAdjust="spacingAndGlyphs" stroke="#111" stroke-width="0.12">300</text>
<text x="489.22" y="405.9" font-size="7.0" text-anchor="middle" font-weight="normal" fill="#111" textLength="10.5" lengthAdjust="spacingAndGlyphs" stroke="#111" stroke-width="0.12">350</text>
<text x="515.46" y="405.9" font-size="7.0" text-anchor="middle" font-weight="normal" fill="#111" textLength="10.5" lengthAdjust="spacingAndGlyphs" stroke="#111" stroke-width="0.12">400</text>
<text x="541.71" y="405.9" font-size="7.0" text-anchor="middle" font-weight="normal" fill="#111" textLength="10.5" lengthAdjust="spacingAndGlyphs" stroke="#111" stroke-width="0.12">450</text>
<text x="300.5" y="385.98" font-size="6.3" text-anchor="end" font-weight="normal" fill="#111" textLength="8.82" lengthAdjust="spacingAndGlyphs" stroke="#111" stroke-width="0.12">0.0</text>
<text x="300.5" y="362.9" font-size="6.3" text-anchor="end" font-weight="normal" fill="#111" textLength="8.82" lengthAdjust="spacingAndGlyphs" stroke="#111" stroke-width="0.12">0.5</text>
<text x="300.5" y="339.82" font-size="6.3" text-anchor="end" font-weight="normal" fill="#111" textLength="8.82" lengthAdjust="spacingAndGlyphs" stroke="#111" stroke-width="0.12">1.0</text>
<text x="300.5" y="316.74" font-size="6.3" text-anchor="end" font-weight="normal" fill="#111" textLength="8.82" lengthAdjust="spacingAndGlyphs" stroke="#111" stroke-width="0.12">1.5</text>
<text x="300.5" y="293.66" font-size="6.3" text-anchor="end" font-weight="normal" fill="#111" textLength="8.82" lengthAdjust="spacingAndGlyphs" stroke="#111" stroke-width="0.12">2.0</text>
<text x="300.5" y="270.58" font-size="6.3" text-anchor="end" font-weight="normal" fill="#111" textLength="8.82" lengthAdjust="spacingAndGlyphs" stroke="#111" stroke-width="0.12">2.5</text>
<text x="300.5" y="247.5" font-size="6.3" text-anchor="end" font-weight="normal" fill="#111" textLength="8.82" lengthAdjust="spacingAndGlyphs" stroke="#111" stroke-width="0.12">3.0</text>
<text x="300.5" y="224.42" font-size="6.3" text-anchor="end" font-weight="normal" fill="#111" textLength="8.82" lengthAdjust="spacingAndGlyphs" stroke="#111" stroke-width="0.12">3.5</text>
<text x="423.7" y="419.2" font-size="9.3" text-anchor="middle" font-weight="normal" fill="#222" textLength="38.8" lengthAdjust="spacingAndGlyphs" stroke="#222" stroke-width="0.12">Time (min)</text>
<text x="287.6" y="308.75" font-size="8.5" text-anchor="middle" font-weight="normal" fill="#222" transform="rotate(-90 287.6 308.75)" textLength="93" lengthAdjust="spacingAndGlyphs" stroke="#222" stroke-width="0.12">Disintegration rate (%/min)</text>
<text x="307.5" y="235" font-size="17.6" text-anchor="start" font-weight="bold" fill="#111">(d)</text>
<rect x="452.4" y="228.1" width="82.7" height="57.2" fill="#fff" stroke="#aaa" stroke-width="0.8"/>
<line x1="454.3" y1="234.5" x2="474.8" y2="234.5" stroke="#8fcbe6" stroke-width="1.0"/>
<circle cx="464.55" cy="234.5" r="1.8" fill="#d2eaf5" stroke="#8fcbe6" stroke-width="0.7"/>
<text x="477.4" y="237.8" font-size="9.7" text-anchor="start" font-weight="normal" fill="#111" textLength="55.5" lengthAdjust="spacingAndGlyphs" stroke="#111" stroke-width="0.15">0%PAM-CMC</text>
<line x1="454.3" y1="245.9" x2="474.8" y2="245.9" stroke="#2b7cc0" stroke-width="2.0"/>
<circle cx="464.55" cy="245.9" r="1.8" fill="#75a9d6" stroke="#2b7cc0" stroke-width="0.7"/>
<text x="477.4" y="249.2" font-size="9.7" text-anchor="start" font-weight="normal" fill="#111" textLength="55.5" lengthAdjust="spacingAndGlyphs" stroke="#111" stroke-width="0.15">1%PAM-CMC</text>
<line x1="454.3" y1="257.3" x2="474.8" y2="257.3" stroke="#9fdc8c" stroke-width="1.0"/>
<circle cx="464.55" cy="257.3" r="1.8" fill="#d8f1d1" stroke="#9fdc8c" stroke-width="0.7"/>
<text x="477.4" y="260.6" font-size="9.7" text-anchor="start" font-weight="normal" fill="#111" textLength="55.5" lengthAdjust="spacingAndGlyphs" stroke="#111" stroke-width="0.15">2%PAM-CMC</text>
<line x1="454.3" y1="268.7" x2="474.8" y2="268.7" stroke="#22a02a" stroke-width="2.0"/>
<circle cx="464.55" cy="268.7" r="1.8" fill="#64bc69" stroke="#22a02a" stroke-width="0.7"/>
<text x="477.4" y="272" font-size="9.7" text-anchor="start" font-weight="normal" fill="#111" textLength="55.5" lengthAdjust="spacingAndGlyphs" stroke="#111" stroke-width="0.15">3%PAM-CMC</text>
<line x1="454.3" y1="280.1" x2="474.8" y2="280.1" stroke="#f29a9a" stroke-width="1.0"/>
<circle cx="464.55" cy="280.1" r="1.8" fill="#f9d6d6" stroke="#f29a9a" stroke-width="0.7"/>
<text x="477.4" y="283.4" font-size="9.7" text-anchor="start" font-weight="normal" fill="#111" textLength="55.5" lengthAdjust="spacingAndGlyphs" stroke="#111" stroke-width="0.15">4%PAM-CMC</text>
</svg>
</body></html>
